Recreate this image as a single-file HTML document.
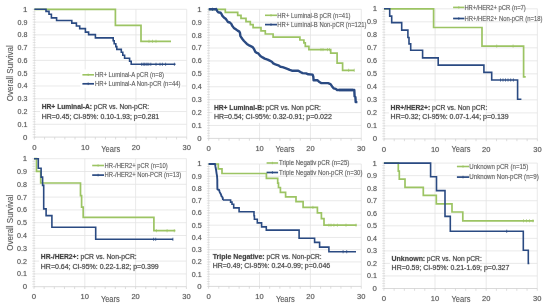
<!DOCTYPE html>
<html><head><meta charset="utf-8"><style>
html,body{margin:0;padding:0;background:#fff;overflow:hidden}
svg{display:block;will-change:transform}
text{font-family:"Liberation Sans",sans-serif}
</style></head><body>
<svg width="550" height="308" viewBox="0 0 550 308">
<rect width="550" height="308" fill="#fff"/>
<line x1="34.4" y1="124.32" x2="186.7" y2="124.32" stroke="#e3e3e3" stroke-width="0.8"/>
<line x1="34.4" y1="111.54" x2="186.7" y2="111.54" stroke="#e3e3e3" stroke-width="0.8"/>
<line x1="34.4" y1="98.76" x2="186.7" y2="98.76" stroke="#e3e3e3" stroke-width="0.8"/>
<line x1="34.4" y1="85.98" x2="186.7" y2="85.98" stroke="#e3e3e3" stroke-width="0.8"/>
<line x1="34.4" y1="73.20" x2="186.7" y2="73.20" stroke="#e3e3e3" stroke-width="0.8"/>
<line x1="34.4" y1="60.42" x2="186.7" y2="60.42" stroke="#e3e3e3" stroke-width="0.8"/>
<line x1="34.4" y1="47.64" x2="186.7" y2="47.64" stroke="#e3e3e3" stroke-width="0.8"/>
<line x1="34.4" y1="34.86" x2="186.7" y2="34.86" stroke="#e3e3e3" stroke-width="0.8"/>
<line x1="34.4" y1="22.08" x2="186.7" y2="22.08" stroke="#e3e3e3" stroke-width="0.8"/>
<line x1="34.4" y1="9.30" x2="186.7" y2="9.30" stroke="#e3e3e3" stroke-width="0.8"/>
<line x1="85.17" y1="9.3" x2="85.17" y2="137.1" stroke="#e3e3e3" stroke-width="0.8"/>
<line x1="135.94" y1="9.3" x2="135.94" y2="137.1" stroke="#e3e3e3" stroke-width="0.8"/>
<line x1="186.71" y1="9.3" x2="186.71" y2="137.1" stroke="#e3e3e3" stroke-width="0.8"/>
<line x1="34.40" y1="9.3" x2="34.40" y2="137.1" stroke="#e2e2e2" stroke-width="0.7"/>
<line x1="34.4" y1="137.10" x2="186.7" y2="137.10" stroke="#d0d0d0" stroke-width="0.8"/>
<line x1="32.7" y1="137.10" x2="35.6" y2="137.10" stroke="#d0d0d0" stroke-width="0.6"/>
<line x1="32.7" y1="134.54" x2="35.6" y2="134.54" stroke="#d0d0d0" stroke-width="0.6"/>
<line x1="32.7" y1="131.99" x2="35.6" y2="131.99" stroke="#d0d0d0" stroke-width="0.6"/>
<line x1="32.7" y1="129.43" x2="35.6" y2="129.43" stroke="#d0d0d0" stroke-width="0.6"/>
<line x1="32.7" y1="126.88" x2="35.6" y2="126.88" stroke="#d0d0d0" stroke-width="0.6"/>
<line x1="32.7" y1="124.32" x2="35.6" y2="124.32" stroke="#d0d0d0" stroke-width="0.6"/>
<line x1="32.7" y1="121.76" x2="35.6" y2="121.76" stroke="#d0d0d0" stroke-width="0.6"/>
<line x1="32.7" y1="119.21" x2="35.6" y2="119.21" stroke="#d0d0d0" stroke-width="0.6"/>
<line x1="32.7" y1="116.65" x2="35.6" y2="116.65" stroke="#d0d0d0" stroke-width="0.6"/>
<line x1="32.7" y1="114.10" x2="35.6" y2="114.10" stroke="#d0d0d0" stroke-width="0.6"/>
<line x1="32.7" y1="111.54" x2="35.6" y2="111.54" stroke="#d0d0d0" stroke-width="0.6"/>
<line x1="32.7" y1="108.98" x2="35.6" y2="108.98" stroke="#d0d0d0" stroke-width="0.6"/>
<line x1="32.7" y1="106.43" x2="35.6" y2="106.43" stroke="#d0d0d0" stroke-width="0.6"/>
<line x1="32.7" y1="103.87" x2="35.6" y2="103.87" stroke="#d0d0d0" stroke-width="0.6"/>
<line x1="32.7" y1="101.32" x2="35.6" y2="101.32" stroke="#d0d0d0" stroke-width="0.6"/>
<line x1="32.7" y1="98.76" x2="35.6" y2="98.76" stroke="#d0d0d0" stroke-width="0.6"/>
<line x1="32.7" y1="96.20" x2="35.6" y2="96.20" stroke="#d0d0d0" stroke-width="0.6"/>
<line x1="32.7" y1="93.65" x2="35.6" y2="93.65" stroke="#d0d0d0" stroke-width="0.6"/>
<line x1="32.7" y1="91.09" x2="35.6" y2="91.09" stroke="#d0d0d0" stroke-width="0.6"/>
<line x1="32.7" y1="88.54" x2="35.6" y2="88.54" stroke="#d0d0d0" stroke-width="0.6"/>
<line x1="32.7" y1="85.98" x2="35.6" y2="85.98" stroke="#d0d0d0" stroke-width="0.6"/>
<line x1="32.7" y1="83.42" x2="35.6" y2="83.42" stroke="#d0d0d0" stroke-width="0.6"/>
<line x1="32.7" y1="80.87" x2="35.6" y2="80.87" stroke="#d0d0d0" stroke-width="0.6"/>
<line x1="32.7" y1="78.31" x2="35.6" y2="78.31" stroke="#d0d0d0" stroke-width="0.6"/>
<line x1="32.7" y1="75.76" x2="35.6" y2="75.76" stroke="#d0d0d0" stroke-width="0.6"/>
<line x1="32.7" y1="73.20" x2="35.6" y2="73.20" stroke="#d0d0d0" stroke-width="0.6"/>
<line x1="32.7" y1="70.64" x2="35.6" y2="70.64" stroke="#d0d0d0" stroke-width="0.6"/>
<line x1="32.7" y1="68.09" x2="35.6" y2="68.09" stroke="#d0d0d0" stroke-width="0.6"/>
<line x1="32.7" y1="65.53" x2="35.6" y2="65.53" stroke="#d0d0d0" stroke-width="0.6"/>
<line x1="32.7" y1="62.98" x2="35.6" y2="62.98" stroke="#d0d0d0" stroke-width="0.6"/>
<line x1="32.7" y1="60.42" x2="35.6" y2="60.42" stroke="#d0d0d0" stroke-width="0.6"/>
<line x1="32.7" y1="57.86" x2="35.6" y2="57.86" stroke="#d0d0d0" stroke-width="0.6"/>
<line x1="32.7" y1="55.31" x2="35.6" y2="55.31" stroke="#d0d0d0" stroke-width="0.6"/>
<line x1="32.7" y1="52.75" x2="35.6" y2="52.75" stroke="#d0d0d0" stroke-width="0.6"/>
<line x1="32.7" y1="50.20" x2="35.6" y2="50.20" stroke="#d0d0d0" stroke-width="0.6"/>
<line x1="32.7" y1="47.64" x2="35.6" y2="47.64" stroke="#d0d0d0" stroke-width="0.6"/>
<line x1="32.7" y1="45.08" x2="35.6" y2="45.08" stroke="#d0d0d0" stroke-width="0.6"/>
<line x1="32.7" y1="42.53" x2="35.6" y2="42.53" stroke="#d0d0d0" stroke-width="0.6"/>
<line x1="32.7" y1="39.97" x2="35.6" y2="39.97" stroke="#d0d0d0" stroke-width="0.6"/>
<line x1="32.7" y1="37.42" x2="35.6" y2="37.42" stroke="#d0d0d0" stroke-width="0.6"/>
<line x1="32.7" y1="34.86" x2="35.6" y2="34.86" stroke="#d0d0d0" stroke-width="0.6"/>
<line x1="32.7" y1="32.30" x2="35.6" y2="32.30" stroke="#d0d0d0" stroke-width="0.6"/>
<line x1="32.7" y1="29.75" x2="35.6" y2="29.75" stroke="#d0d0d0" stroke-width="0.6"/>
<line x1="32.7" y1="27.19" x2="35.6" y2="27.19" stroke="#d0d0d0" stroke-width="0.6"/>
<line x1="32.7" y1="24.64" x2="35.6" y2="24.64" stroke="#d0d0d0" stroke-width="0.6"/>
<line x1="32.7" y1="22.08" x2="35.6" y2="22.08" stroke="#d0d0d0" stroke-width="0.6"/>
<line x1="32.7" y1="19.52" x2="35.6" y2="19.52" stroke="#d0d0d0" stroke-width="0.6"/>
<line x1="32.7" y1="16.97" x2="35.6" y2="16.97" stroke="#d0d0d0" stroke-width="0.6"/>
<line x1="32.7" y1="14.41" x2="35.6" y2="14.41" stroke="#d0d0d0" stroke-width="0.6"/>
<line x1="32.7" y1="11.86" x2="35.6" y2="11.86" stroke="#d0d0d0" stroke-width="0.6"/>
<line x1="32.7" y1="9.30" x2="35.6" y2="9.30" stroke="#d0d0d0" stroke-width="0.6"/>
<line x1="34.40" y1="137.1" x2="34.40" y2="139.4" stroke="#d0d0d0" stroke-width="0.7"/>
<line x1="44.55" y1="137.1" x2="44.55" y2="139.4" stroke="#d0d0d0" stroke-width="0.7"/>
<line x1="54.71" y1="137.1" x2="54.71" y2="139.4" stroke="#d0d0d0" stroke-width="0.7"/>
<line x1="64.86" y1="137.1" x2="64.86" y2="139.4" stroke="#d0d0d0" stroke-width="0.7"/>
<line x1="75.02" y1="137.1" x2="75.02" y2="139.4" stroke="#d0d0d0" stroke-width="0.7"/>
<line x1="85.17" y1="137.1" x2="85.17" y2="139.4" stroke="#d0d0d0" stroke-width="0.7"/>
<line x1="95.32" y1="137.1" x2="95.32" y2="139.4" stroke="#d0d0d0" stroke-width="0.7"/>
<line x1="105.48" y1="137.1" x2="105.48" y2="139.4" stroke="#d0d0d0" stroke-width="0.7"/>
<line x1="115.63" y1="137.1" x2="115.63" y2="139.4" stroke="#d0d0d0" stroke-width="0.7"/>
<line x1="125.79" y1="137.1" x2="125.79" y2="139.4" stroke="#d0d0d0" stroke-width="0.7"/>
<line x1="135.94" y1="137.1" x2="135.94" y2="139.4" stroke="#d0d0d0" stroke-width="0.7"/>
<line x1="146.09" y1="137.1" x2="146.09" y2="139.4" stroke="#d0d0d0" stroke-width="0.7"/>
<line x1="156.25" y1="137.1" x2="156.25" y2="139.4" stroke="#d0d0d0" stroke-width="0.7"/>
<line x1="166.40" y1="137.1" x2="166.40" y2="139.4" stroke="#d0d0d0" stroke-width="0.7"/>
<line x1="176.56" y1="137.1" x2="176.56" y2="139.4" stroke="#d0d0d0" stroke-width="0.7"/>
<line x1="186.71" y1="137.1" x2="186.71" y2="139.4" stroke="#d0d0d0" stroke-width="0.7"/>
<text x="27.4" y="139.5" font-size="7.8" fill="#595959" text-anchor="end" font-weight="normal" stroke="#595959" stroke-width="0.6" stroke-opacity="0.3">0</text>
<text x="27.4" y="126.7" font-size="7.8" fill="#595959" text-anchor="end" font-weight="normal" textLength="9.9" lengthAdjust="spacingAndGlyphs" stroke="#595959" stroke-width="0.6" stroke-opacity="0.3">0.1</text>
<text x="27.4" y="113.9" font-size="7.8" fill="#595959" text-anchor="end" font-weight="normal" textLength="9.9" lengthAdjust="spacingAndGlyphs" stroke="#595959" stroke-width="0.6" stroke-opacity="0.3">0.2</text>
<text x="27.4" y="101.2" font-size="7.8" fill="#595959" text-anchor="end" font-weight="normal" textLength="9.9" lengthAdjust="spacingAndGlyphs" stroke="#595959" stroke-width="0.6" stroke-opacity="0.3">0.3</text>
<text x="27.4" y="88.4" font-size="7.8" fill="#595959" text-anchor="end" font-weight="normal" textLength="9.9" lengthAdjust="spacingAndGlyphs" stroke="#595959" stroke-width="0.6" stroke-opacity="0.3">0.4</text>
<text x="27.4" y="75.6" font-size="7.8" fill="#595959" text-anchor="end" font-weight="normal" textLength="9.9" lengthAdjust="spacingAndGlyphs" stroke="#595959" stroke-width="0.6" stroke-opacity="0.3">0.5</text>
<text x="27.4" y="62.8" font-size="7.8" fill="#595959" text-anchor="end" font-weight="normal" textLength="9.9" lengthAdjust="spacingAndGlyphs" stroke="#595959" stroke-width="0.6" stroke-opacity="0.3">0.6</text>
<text x="27.4" y="50.0" font-size="7.8" fill="#595959" text-anchor="end" font-weight="normal" textLength="9.9" lengthAdjust="spacingAndGlyphs" stroke="#595959" stroke-width="0.6" stroke-opacity="0.3">0.7</text>
<text x="27.4" y="37.3" font-size="7.8" fill="#595959" text-anchor="end" font-weight="normal" textLength="9.9" lengthAdjust="spacingAndGlyphs" stroke="#595959" stroke-width="0.6" stroke-opacity="0.3">0.8</text>
<text x="27.4" y="24.5" font-size="7.8" fill="#595959" text-anchor="end" font-weight="normal" textLength="9.9" lengthAdjust="spacingAndGlyphs" stroke="#595959" stroke-width="0.6" stroke-opacity="0.3">0.9</text>
<text x="27.4" y="11.7" font-size="7.8" fill="#595959" text-anchor="end" font-weight="normal" stroke="#595959" stroke-width="0.6" stroke-opacity="0.3">1</text>
<text x="34.4" y="149.7" font-size="7.8" fill="#595959" text-anchor="middle" font-weight="normal" stroke="#595959" stroke-width="0.6" stroke-opacity="0.3">0</text>
<text x="85.2" y="149.7" font-size="7.8" fill="#595959" text-anchor="middle" font-weight="normal" textLength="8.4" lengthAdjust="spacingAndGlyphs" stroke="#595959" stroke-width="0.6" stroke-opacity="0.3">10</text>
<text x="135.9" y="149.7" font-size="7.8" fill="#595959" text-anchor="middle" font-weight="normal" textLength="8.4" lengthAdjust="spacingAndGlyphs" stroke="#595959" stroke-width="0.6" stroke-opacity="0.3">20</text>
<text x="186.7" y="149.7" font-size="7.8" fill="#595959" text-anchor="middle" font-weight="normal" textLength="8.4" lengthAdjust="spacingAndGlyphs" stroke="#595959" stroke-width="0.6" stroke-opacity="0.3">30</text>
<text x="101.3" y="151.7" font-size="8.5" fill="#595959" text-anchor="start" font-weight="normal" textLength="18.9" lengthAdjust="spacingAndGlyphs" stroke="#595959" stroke-width="0.6" stroke-opacity="0.2">Years</text>
<line x1="208.7" y1="125.49" x2="361.3" y2="125.49" stroke="#e3e3e3" stroke-width="0.8"/>
<line x1="208.7" y1="112.58" x2="361.3" y2="112.58" stroke="#e3e3e3" stroke-width="0.8"/>
<line x1="208.7" y1="99.67" x2="361.3" y2="99.67" stroke="#e3e3e3" stroke-width="0.8"/>
<line x1="208.7" y1="86.76" x2="361.3" y2="86.76" stroke="#e3e3e3" stroke-width="0.8"/>
<line x1="208.7" y1="73.85" x2="361.3" y2="73.85" stroke="#e3e3e3" stroke-width="0.8"/>
<line x1="208.7" y1="60.94" x2="361.3" y2="60.94" stroke="#e3e3e3" stroke-width="0.8"/>
<line x1="208.7" y1="48.03" x2="361.3" y2="48.03" stroke="#e3e3e3" stroke-width="0.8"/>
<line x1="208.7" y1="35.12" x2="361.3" y2="35.12" stroke="#e3e3e3" stroke-width="0.8"/>
<line x1="208.7" y1="22.21" x2="361.3" y2="22.21" stroke="#e3e3e3" stroke-width="0.8"/>
<line x1="208.7" y1="9.30" x2="361.3" y2="9.30" stroke="#e3e3e3" stroke-width="0.8"/>
<line x1="259.57" y1="9.3" x2="259.57" y2="138.4" stroke="#e3e3e3" stroke-width="0.8"/>
<line x1="310.44" y1="9.3" x2="310.44" y2="138.4" stroke="#e3e3e3" stroke-width="0.8"/>
<line x1="361.31" y1="9.3" x2="361.31" y2="138.4" stroke="#e3e3e3" stroke-width="0.8"/>
<line x1="208.70" y1="9.3" x2="208.70" y2="138.4" stroke="#e2e2e2" stroke-width="0.7"/>
<line x1="208.7" y1="138.40" x2="361.3" y2="138.40" stroke="#d0d0d0" stroke-width="0.8"/>
<line x1="207.0" y1="138.40" x2="209.9" y2="138.40" stroke="#d0d0d0" stroke-width="0.6"/>
<line x1="207.0" y1="135.82" x2="209.9" y2="135.82" stroke="#d0d0d0" stroke-width="0.6"/>
<line x1="207.0" y1="133.24" x2="209.9" y2="133.24" stroke="#d0d0d0" stroke-width="0.6"/>
<line x1="207.0" y1="130.65" x2="209.9" y2="130.65" stroke="#d0d0d0" stroke-width="0.6"/>
<line x1="207.0" y1="128.07" x2="209.9" y2="128.07" stroke="#d0d0d0" stroke-width="0.6"/>
<line x1="207.0" y1="125.49" x2="209.9" y2="125.49" stroke="#d0d0d0" stroke-width="0.6"/>
<line x1="207.0" y1="122.91" x2="209.9" y2="122.91" stroke="#d0d0d0" stroke-width="0.6"/>
<line x1="207.0" y1="120.33" x2="209.9" y2="120.33" stroke="#d0d0d0" stroke-width="0.6"/>
<line x1="207.0" y1="117.74" x2="209.9" y2="117.74" stroke="#d0d0d0" stroke-width="0.6"/>
<line x1="207.0" y1="115.16" x2="209.9" y2="115.16" stroke="#d0d0d0" stroke-width="0.6"/>
<line x1="207.0" y1="112.58" x2="209.9" y2="112.58" stroke="#d0d0d0" stroke-width="0.6"/>
<line x1="207.0" y1="110.00" x2="209.9" y2="110.00" stroke="#d0d0d0" stroke-width="0.6"/>
<line x1="207.0" y1="107.42" x2="209.9" y2="107.42" stroke="#d0d0d0" stroke-width="0.6"/>
<line x1="207.0" y1="104.83" x2="209.9" y2="104.83" stroke="#d0d0d0" stroke-width="0.6"/>
<line x1="207.0" y1="102.25" x2="209.9" y2="102.25" stroke="#d0d0d0" stroke-width="0.6"/>
<line x1="207.0" y1="99.67" x2="209.9" y2="99.67" stroke="#d0d0d0" stroke-width="0.6"/>
<line x1="207.0" y1="97.09" x2="209.9" y2="97.09" stroke="#d0d0d0" stroke-width="0.6"/>
<line x1="207.0" y1="94.51" x2="209.9" y2="94.51" stroke="#d0d0d0" stroke-width="0.6"/>
<line x1="207.0" y1="91.92" x2="209.9" y2="91.92" stroke="#d0d0d0" stroke-width="0.6"/>
<line x1="207.0" y1="89.34" x2="209.9" y2="89.34" stroke="#d0d0d0" stroke-width="0.6"/>
<line x1="207.0" y1="86.76" x2="209.9" y2="86.76" stroke="#d0d0d0" stroke-width="0.6"/>
<line x1="207.0" y1="84.18" x2="209.9" y2="84.18" stroke="#d0d0d0" stroke-width="0.6"/>
<line x1="207.0" y1="81.60" x2="209.9" y2="81.60" stroke="#d0d0d0" stroke-width="0.6"/>
<line x1="207.0" y1="79.01" x2="209.9" y2="79.01" stroke="#d0d0d0" stroke-width="0.6"/>
<line x1="207.0" y1="76.43" x2="209.9" y2="76.43" stroke="#d0d0d0" stroke-width="0.6"/>
<line x1="207.0" y1="73.85" x2="209.9" y2="73.85" stroke="#d0d0d0" stroke-width="0.6"/>
<line x1="207.0" y1="71.27" x2="209.9" y2="71.27" stroke="#d0d0d0" stroke-width="0.6"/>
<line x1="207.0" y1="68.69" x2="209.9" y2="68.69" stroke="#d0d0d0" stroke-width="0.6"/>
<line x1="207.0" y1="66.10" x2="209.9" y2="66.10" stroke="#d0d0d0" stroke-width="0.6"/>
<line x1="207.0" y1="63.52" x2="209.9" y2="63.52" stroke="#d0d0d0" stroke-width="0.6"/>
<line x1="207.0" y1="60.94" x2="209.9" y2="60.94" stroke="#d0d0d0" stroke-width="0.6"/>
<line x1="207.0" y1="58.36" x2="209.9" y2="58.36" stroke="#d0d0d0" stroke-width="0.6"/>
<line x1="207.0" y1="55.78" x2="209.9" y2="55.78" stroke="#d0d0d0" stroke-width="0.6"/>
<line x1="207.0" y1="53.19" x2="209.9" y2="53.19" stroke="#d0d0d0" stroke-width="0.6"/>
<line x1="207.0" y1="50.61" x2="209.9" y2="50.61" stroke="#d0d0d0" stroke-width="0.6"/>
<line x1="207.0" y1="48.03" x2="209.9" y2="48.03" stroke="#d0d0d0" stroke-width="0.6"/>
<line x1="207.0" y1="45.45" x2="209.9" y2="45.45" stroke="#d0d0d0" stroke-width="0.6"/>
<line x1="207.0" y1="42.87" x2="209.9" y2="42.87" stroke="#d0d0d0" stroke-width="0.6"/>
<line x1="207.0" y1="40.28" x2="209.9" y2="40.28" stroke="#d0d0d0" stroke-width="0.6"/>
<line x1="207.0" y1="37.70" x2="209.9" y2="37.70" stroke="#d0d0d0" stroke-width="0.6"/>
<line x1="207.0" y1="35.12" x2="209.9" y2="35.12" stroke="#d0d0d0" stroke-width="0.6"/>
<line x1="207.0" y1="32.54" x2="209.9" y2="32.54" stroke="#d0d0d0" stroke-width="0.6"/>
<line x1="207.0" y1="29.96" x2="209.9" y2="29.96" stroke="#d0d0d0" stroke-width="0.6"/>
<line x1="207.0" y1="27.37" x2="209.9" y2="27.37" stroke="#d0d0d0" stroke-width="0.6"/>
<line x1="207.0" y1="24.79" x2="209.9" y2="24.79" stroke="#d0d0d0" stroke-width="0.6"/>
<line x1="207.0" y1="22.21" x2="209.9" y2="22.21" stroke="#d0d0d0" stroke-width="0.6"/>
<line x1="207.0" y1="19.63" x2="209.9" y2="19.63" stroke="#d0d0d0" stroke-width="0.6"/>
<line x1="207.0" y1="17.05" x2="209.9" y2="17.05" stroke="#d0d0d0" stroke-width="0.6"/>
<line x1="207.0" y1="14.46" x2="209.9" y2="14.46" stroke="#d0d0d0" stroke-width="0.6"/>
<line x1="207.0" y1="11.88" x2="209.9" y2="11.88" stroke="#d0d0d0" stroke-width="0.6"/>
<line x1="207.0" y1="9.30" x2="209.9" y2="9.30" stroke="#d0d0d0" stroke-width="0.6"/>
<line x1="208.70" y1="138.4" x2="208.70" y2="140.7" stroke="#d0d0d0" stroke-width="0.7"/>
<line x1="218.87" y1="138.4" x2="218.87" y2="140.7" stroke="#d0d0d0" stroke-width="0.7"/>
<line x1="229.05" y1="138.4" x2="229.05" y2="140.7" stroke="#d0d0d0" stroke-width="0.7"/>
<line x1="239.22" y1="138.4" x2="239.22" y2="140.7" stroke="#d0d0d0" stroke-width="0.7"/>
<line x1="249.40" y1="138.4" x2="249.40" y2="140.7" stroke="#d0d0d0" stroke-width="0.7"/>
<line x1="259.57" y1="138.4" x2="259.57" y2="140.7" stroke="#d0d0d0" stroke-width="0.7"/>
<line x1="269.74" y1="138.4" x2="269.74" y2="140.7" stroke="#d0d0d0" stroke-width="0.7"/>
<line x1="279.92" y1="138.4" x2="279.92" y2="140.7" stroke="#d0d0d0" stroke-width="0.7"/>
<line x1="290.09" y1="138.4" x2="290.09" y2="140.7" stroke="#d0d0d0" stroke-width="0.7"/>
<line x1="300.27" y1="138.4" x2="300.27" y2="140.7" stroke="#d0d0d0" stroke-width="0.7"/>
<line x1="310.44" y1="138.4" x2="310.44" y2="140.7" stroke="#d0d0d0" stroke-width="0.7"/>
<line x1="320.61" y1="138.4" x2="320.61" y2="140.7" stroke="#d0d0d0" stroke-width="0.7"/>
<line x1="330.79" y1="138.4" x2="330.79" y2="140.7" stroke="#d0d0d0" stroke-width="0.7"/>
<line x1="340.96" y1="138.4" x2="340.96" y2="140.7" stroke="#d0d0d0" stroke-width="0.7"/>
<line x1="351.14" y1="138.4" x2="351.14" y2="140.7" stroke="#d0d0d0" stroke-width="0.7"/>
<line x1="361.31" y1="138.4" x2="361.31" y2="140.7" stroke="#d0d0d0" stroke-width="0.7"/>
<text x="201.7" y="140.8" font-size="7.8" fill="#595959" text-anchor="end" font-weight="normal" stroke="#595959" stroke-width="0.6" stroke-opacity="0.3">0</text>
<text x="201.7" y="127.9" font-size="7.8" fill="#595959" text-anchor="end" font-weight="normal" textLength="9.9" lengthAdjust="spacingAndGlyphs" stroke="#595959" stroke-width="0.6" stroke-opacity="0.3">0.1</text>
<text x="201.7" y="115.0" font-size="7.8" fill="#595959" text-anchor="end" font-weight="normal" textLength="9.9" lengthAdjust="spacingAndGlyphs" stroke="#595959" stroke-width="0.6" stroke-opacity="0.3">0.2</text>
<text x="201.7" y="102.1" font-size="7.8" fill="#595959" text-anchor="end" font-weight="normal" textLength="9.9" lengthAdjust="spacingAndGlyphs" stroke="#595959" stroke-width="0.6" stroke-opacity="0.3">0.3</text>
<text x="201.7" y="89.2" font-size="7.8" fill="#595959" text-anchor="end" font-weight="normal" textLength="9.9" lengthAdjust="spacingAndGlyphs" stroke="#595959" stroke-width="0.6" stroke-opacity="0.3">0.4</text>
<text x="201.7" y="76.3" font-size="7.8" fill="#595959" text-anchor="end" font-weight="normal" textLength="9.9" lengthAdjust="spacingAndGlyphs" stroke="#595959" stroke-width="0.6" stroke-opacity="0.3">0.5</text>
<text x="201.7" y="63.3" font-size="7.8" fill="#595959" text-anchor="end" font-weight="normal" textLength="9.9" lengthAdjust="spacingAndGlyphs" stroke="#595959" stroke-width="0.6" stroke-opacity="0.3">0.6</text>
<text x="201.7" y="50.4" font-size="7.8" fill="#595959" text-anchor="end" font-weight="normal" textLength="9.9" lengthAdjust="spacingAndGlyphs" stroke="#595959" stroke-width="0.6" stroke-opacity="0.3">0.7</text>
<text x="201.7" y="37.5" font-size="7.8" fill="#595959" text-anchor="end" font-weight="normal" textLength="9.9" lengthAdjust="spacingAndGlyphs" stroke="#595959" stroke-width="0.6" stroke-opacity="0.3">0.8</text>
<text x="201.7" y="24.6" font-size="7.8" fill="#595959" text-anchor="end" font-weight="normal" textLength="9.9" lengthAdjust="spacingAndGlyphs" stroke="#595959" stroke-width="0.6" stroke-opacity="0.3">0.9</text>
<text x="201.7" y="11.7" font-size="7.8" fill="#595959" text-anchor="end" font-weight="normal" stroke="#595959" stroke-width="0.6" stroke-opacity="0.3">1</text>
<text x="208.7" y="151.0" font-size="7.8" fill="#595959" text-anchor="middle" font-weight="normal" stroke="#595959" stroke-width="0.6" stroke-opacity="0.3">0</text>
<text x="259.6" y="151.0" font-size="7.8" fill="#595959" text-anchor="middle" font-weight="normal" textLength="8.4" lengthAdjust="spacingAndGlyphs" stroke="#595959" stroke-width="0.6" stroke-opacity="0.3">10</text>
<text x="310.4" y="151.0" font-size="7.8" fill="#595959" text-anchor="middle" font-weight="normal" textLength="8.4" lengthAdjust="spacingAndGlyphs" stroke="#595959" stroke-width="0.6" stroke-opacity="0.3">20</text>
<text x="361.3" y="151.0" font-size="7.8" fill="#595959" text-anchor="middle" font-weight="normal" textLength="8.4" lengthAdjust="spacingAndGlyphs" stroke="#595959" stroke-width="0.6" stroke-opacity="0.3">30</text>
<text x="275.5" y="151.7" font-size="8.5" fill="#595959" text-anchor="start" font-weight="normal" textLength="18.9" lengthAdjust="spacingAndGlyphs" stroke="#595959" stroke-width="0.6" stroke-opacity="0.2">Years</text>
<line x1="384.0" y1="125.89" x2="537.4" y2="125.89" stroke="#e3e3e3" stroke-width="0.8"/>
<line x1="384.0" y1="112.88" x2="537.4" y2="112.88" stroke="#e3e3e3" stroke-width="0.8"/>
<line x1="384.0" y1="99.87" x2="537.4" y2="99.87" stroke="#e3e3e3" stroke-width="0.8"/>
<line x1="384.0" y1="86.86" x2="537.4" y2="86.86" stroke="#e3e3e3" stroke-width="0.8"/>
<line x1="384.0" y1="73.85" x2="537.4" y2="73.85" stroke="#e3e3e3" stroke-width="0.8"/>
<line x1="384.0" y1="60.84" x2="537.4" y2="60.84" stroke="#e3e3e3" stroke-width="0.8"/>
<line x1="384.0" y1="47.83" x2="537.4" y2="47.83" stroke="#e3e3e3" stroke-width="0.8"/>
<line x1="384.0" y1="34.82" x2="537.4" y2="34.82" stroke="#e3e3e3" stroke-width="0.8"/>
<line x1="384.0" y1="21.81" x2="537.4" y2="21.81" stroke="#e3e3e3" stroke-width="0.8"/>
<line x1="384.0" y1="8.80" x2="537.4" y2="8.80" stroke="#e3e3e3" stroke-width="0.8"/>
<line x1="435.13" y1="8.8" x2="435.13" y2="138.9" stroke="#e3e3e3" stroke-width="0.8"/>
<line x1="486.26" y1="8.8" x2="486.26" y2="138.9" stroke="#e3e3e3" stroke-width="0.8"/>
<line x1="537.39" y1="8.8" x2="537.39" y2="138.9" stroke="#e3e3e3" stroke-width="0.8"/>
<line x1="384.00" y1="8.8" x2="384.00" y2="138.9" stroke="#e2e2e2" stroke-width="0.7"/>
<line x1="384.0" y1="138.90" x2="537.4" y2="138.90" stroke="#d0d0d0" stroke-width="0.8"/>
<line x1="382.3" y1="138.90" x2="385.2" y2="138.90" stroke="#d0d0d0" stroke-width="0.6"/>
<line x1="382.3" y1="136.30" x2="385.2" y2="136.30" stroke="#d0d0d0" stroke-width="0.6"/>
<line x1="382.3" y1="133.70" x2="385.2" y2="133.70" stroke="#d0d0d0" stroke-width="0.6"/>
<line x1="382.3" y1="131.09" x2="385.2" y2="131.09" stroke="#d0d0d0" stroke-width="0.6"/>
<line x1="382.3" y1="128.49" x2="385.2" y2="128.49" stroke="#d0d0d0" stroke-width="0.6"/>
<line x1="382.3" y1="125.89" x2="385.2" y2="125.89" stroke="#d0d0d0" stroke-width="0.6"/>
<line x1="382.3" y1="123.29" x2="385.2" y2="123.29" stroke="#d0d0d0" stroke-width="0.6"/>
<line x1="382.3" y1="120.69" x2="385.2" y2="120.69" stroke="#d0d0d0" stroke-width="0.6"/>
<line x1="382.3" y1="118.08" x2="385.2" y2="118.08" stroke="#d0d0d0" stroke-width="0.6"/>
<line x1="382.3" y1="115.48" x2="385.2" y2="115.48" stroke="#d0d0d0" stroke-width="0.6"/>
<line x1="382.3" y1="112.88" x2="385.2" y2="112.88" stroke="#d0d0d0" stroke-width="0.6"/>
<line x1="382.3" y1="110.28" x2="385.2" y2="110.28" stroke="#d0d0d0" stroke-width="0.6"/>
<line x1="382.3" y1="107.68" x2="385.2" y2="107.68" stroke="#d0d0d0" stroke-width="0.6"/>
<line x1="382.3" y1="105.07" x2="385.2" y2="105.07" stroke="#d0d0d0" stroke-width="0.6"/>
<line x1="382.3" y1="102.47" x2="385.2" y2="102.47" stroke="#d0d0d0" stroke-width="0.6"/>
<line x1="382.3" y1="99.87" x2="385.2" y2="99.87" stroke="#d0d0d0" stroke-width="0.6"/>
<line x1="382.3" y1="97.27" x2="385.2" y2="97.27" stroke="#d0d0d0" stroke-width="0.6"/>
<line x1="382.3" y1="94.67" x2="385.2" y2="94.67" stroke="#d0d0d0" stroke-width="0.6"/>
<line x1="382.3" y1="92.06" x2="385.2" y2="92.06" stroke="#d0d0d0" stroke-width="0.6"/>
<line x1="382.3" y1="89.46" x2="385.2" y2="89.46" stroke="#d0d0d0" stroke-width="0.6"/>
<line x1="382.3" y1="86.86" x2="385.2" y2="86.86" stroke="#d0d0d0" stroke-width="0.6"/>
<line x1="382.3" y1="84.26" x2="385.2" y2="84.26" stroke="#d0d0d0" stroke-width="0.6"/>
<line x1="382.3" y1="81.66" x2="385.2" y2="81.66" stroke="#d0d0d0" stroke-width="0.6"/>
<line x1="382.3" y1="79.05" x2="385.2" y2="79.05" stroke="#d0d0d0" stroke-width="0.6"/>
<line x1="382.3" y1="76.45" x2="385.2" y2="76.45" stroke="#d0d0d0" stroke-width="0.6"/>
<line x1="382.3" y1="73.85" x2="385.2" y2="73.85" stroke="#d0d0d0" stroke-width="0.6"/>
<line x1="382.3" y1="71.25" x2="385.2" y2="71.25" stroke="#d0d0d0" stroke-width="0.6"/>
<line x1="382.3" y1="68.65" x2="385.2" y2="68.65" stroke="#d0d0d0" stroke-width="0.6"/>
<line x1="382.3" y1="66.04" x2="385.2" y2="66.04" stroke="#d0d0d0" stroke-width="0.6"/>
<line x1="382.3" y1="63.44" x2="385.2" y2="63.44" stroke="#d0d0d0" stroke-width="0.6"/>
<line x1="382.3" y1="60.84" x2="385.2" y2="60.84" stroke="#d0d0d0" stroke-width="0.6"/>
<line x1="382.3" y1="58.24" x2="385.2" y2="58.24" stroke="#d0d0d0" stroke-width="0.6"/>
<line x1="382.3" y1="55.64" x2="385.2" y2="55.64" stroke="#d0d0d0" stroke-width="0.6"/>
<line x1="382.3" y1="53.03" x2="385.2" y2="53.03" stroke="#d0d0d0" stroke-width="0.6"/>
<line x1="382.3" y1="50.43" x2="385.2" y2="50.43" stroke="#d0d0d0" stroke-width="0.6"/>
<line x1="382.3" y1="47.83" x2="385.2" y2="47.83" stroke="#d0d0d0" stroke-width="0.6"/>
<line x1="382.3" y1="45.23" x2="385.2" y2="45.23" stroke="#d0d0d0" stroke-width="0.6"/>
<line x1="382.3" y1="42.63" x2="385.2" y2="42.63" stroke="#d0d0d0" stroke-width="0.6"/>
<line x1="382.3" y1="40.02" x2="385.2" y2="40.02" stroke="#d0d0d0" stroke-width="0.6"/>
<line x1="382.3" y1="37.42" x2="385.2" y2="37.42" stroke="#d0d0d0" stroke-width="0.6"/>
<line x1="382.3" y1="34.82" x2="385.2" y2="34.82" stroke="#d0d0d0" stroke-width="0.6"/>
<line x1="382.3" y1="32.22" x2="385.2" y2="32.22" stroke="#d0d0d0" stroke-width="0.6"/>
<line x1="382.3" y1="29.62" x2="385.2" y2="29.62" stroke="#d0d0d0" stroke-width="0.6"/>
<line x1="382.3" y1="27.01" x2="385.2" y2="27.01" stroke="#d0d0d0" stroke-width="0.6"/>
<line x1="382.3" y1="24.41" x2="385.2" y2="24.41" stroke="#d0d0d0" stroke-width="0.6"/>
<line x1="382.3" y1="21.81" x2="385.2" y2="21.81" stroke="#d0d0d0" stroke-width="0.6"/>
<line x1="382.3" y1="19.21" x2="385.2" y2="19.21" stroke="#d0d0d0" stroke-width="0.6"/>
<line x1="382.3" y1="16.61" x2="385.2" y2="16.61" stroke="#d0d0d0" stroke-width="0.6"/>
<line x1="382.3" y1="14.00" x2="385.2" y2="14.00" stroke="#d0d0d0" stroke-width="0.6"/>
<line x1="382.3" y1="11.40" x2="385.2" y2="11.40" stroke="#d0d0d0" stroke-width="0.6"/>
<line x1="382.3" y1="8.80" x2="385.2" y2="8.80" stroke="#d0d0d0" stroke-width="0.6"/>
<line x1="384.00" y1="138.9" x2="384.00" y2="141.2" stroke="#d0d0d0" stroke-width="0.7"/>
<line x1="394.23" y1="138.9" x2="394.23" y2="141.2" stroke="#d0d0d0" stroke-width="0.7"/>
<line x1="404.45" y1="138.9" x2="404.45" y2="141.2" stroke="#d0d0d0" stroke-width="0.7"/>
<line x1="414.68" y1="138.9" x2="414.68" y2="141.2" stroke="#d0d0d0" stroke-width="0.7"/>
<line x1="424.90" y1="138.9" x2="424.90" y2="141.2" stroke="#d0d0d0" stroke-width="0.7"/>
<line x1="435.13" y1="138.9" x2="435.13" y2="141.2" stroke="#d0d0d0" stroke-width="0.7"/>
<line x1="445.36" y1="138.9" x2="445.36" y2="141.2" stroke="#d0d0d0" stroke-width="0.7"/>
<line x1="455.58" y1="138.9" x2="455.58" y2="141.2" stroke="#d0d0d0" stroke-width="0.7"/>
<line x1="465.81" y1="138.9" x2="465.81" y2="141.2" stroke="#d0d0d0" stroke-width="0.7"/>
<line x1="476.03" y1="138.9" x2="476.03" y2="141.2" stroke="#d0d0d0" stroke-width="0.7"/>
<line x1="486.26" y1="138.9" x2="486.26" y2="141.2" stroke="#d0d0d0" stroke-width="0.7"/>
<line x1="496.49" y1="138.9" x2="496.49" y2="141.2" stroke="#d0d0d0" stroke-width="0.7"/>
<line x1="506.71" y1="138.9" x2="506.71" y2="141.2" stroke="#d0d0d0" stroke-width="0.7"/>
<line x1="516.94" y1="138.9" x2="516.94" y2="141.2" stroke="#d0d0d0" stroke-width="0.7"/>
<line x1="527.16" y1="138.9" x2="527.16" y2="141.2" stroke="#d0d0d0" stroke-width="0.7"/>
<line x1="537.39" y1="138.9" x2="537.39" y2="141.2" stroke="#d0d0d0" stroke-width="0.7"/>
<text x="377.0" y="141.3" font-size="7.8" fill="#595959" text-anchor="end" font-weight="normal" stroke="#595959" stroke-width="0.6" stroke-opacity="0.3">0</text>
<text x="377.0" y="128.3" font-size="7.8" fill="#595959" text-anchor="end" font-weight="normal" textLength="9.9" lengthAdjust="spacingAndGlyphs" stroke="#595959" stroke-width="0.6" stroke-opacity="0.3">0.1</text>
<text x="377.0" y="115.3" font-size="7.8" fill="#595959" text-anchor="end" font-weight="normal" textLength="9.9" lengthAdjust="spacingAndGlyphs" stroke="#595959" stroke-width="0.6" stroke-opacity="0.3">0.2</text>
<text x="377.0" y="102.3" font-size="7.8" fill="#595959" text-anchor="end" font-weight="normal" textLength="9.9" lengthAdjust="spacingAndGlyphs" stroke="#595959" stroke-width="0.6" stroke-opacity="0.3">0.3</text>
<text x="377.0" y="89.3" font-size="7.8" fill="#595959" text-anchor="end" font-weight="normal" textLength="9.9" lengthAdjust="spacingAndGlyphs" stroke="#595959" stroke-width="0.6" stroke-opacity="0.3">0.4</text>
<text x="377.0" y="76.3" font-size="7.8" fill="#595959" text-anchor="end" font-weight="normal" textLength="9.9" lengthAdjust="spacingAndGlyphs" stroke="#595959" stroke-width="0.6" stroke-opacity="0.3">0.5</text>
<text x="377.0" y="63.2" font-size="7.8" fill="#595959" text-anchor="end" font-weight="normal" textLength="9.9" lengthAdjust="spacingAndGlyphs" stroke="#595959" stroke-width="0.6" stroke-opacity="0.3">0.6</text>
<text x="377.0" y="50.2" font-size="7.8" fill="#595959" text-anchor="end" font-weight="normal" textLength="9.9" lengthAdjust="spacingAndGlyphs" stroke="#595959" stroke-width="0.6" stroke-opacity="0.3">0.7</text>
<text x="377.0" y="37.2" font-size="7.8" fill="#595959" text-anchor="end" font-weight="normal" textLength="9.9" lengthAdjust="spacingAndGlyphs" stroke="#595959" stroke-width="0.6" stroke-opacity="0.3">0.8</text>
<text x="377.0" y="24.2" font-size="7.8" fill="#595959" text-anchor="end" font-weight="normal" textLength="9.9" lengthAdjust="spacingAndGlyphs" stroke="#595959" stroke-width="0.6" stroke-opacity="0.3">0.9</text>
<text x="377.0" y="11.2" font-size="7.8" fill="#595959" text-anchor="end" font-weight="normal" stroke="#595959" stroke-width="0.6" stroke-opacity="0.3">1</text>
<text x="384.0" y="151.5" font-size="7.8" fill="#595959" text-anchor="middle" font-weight="normal" stroke="#595959" stroke-width="0.6" stroke-opacity="0.3">0</text>
<text x="435.1" y="151.5" font-size="7.8" fill="#595959" text-anchor="middle" font-weight="normal" textLength="8.4" lengthAdjust="spacingAndGlyphs" stroke="#595959" stroke-width="0.6" stroke-opacity="0.3">10</text>
<text x="486.3" y="151.5" font-size="7.8" fill="#595959" text-anchor="middle" font-weight="normal" textLength="8.4" lengthAdjust="spacingAndGlyphs" stroke="#595959" stroke-width="0.6" stroke-opacity="0.3">20</text>
<text x="537.4" y="151.5" font-size="7.8" fill="#595959" text-anchor="middle" font-weight="normal" textLength="8.4" lengthAdjust="spacingAndGlyphs" stroke="#595959" stroke-width="0.6" stroke-opacity="0.3">30</text>
<text x="451.5" y="151.7" font-size="8.5" fill="#595959" text-anchor="start" font-weight="normal" textLength="18.9" lengthAdjust="spacingAndGlyphs" stroke="#595959" stroke-width="0.6" stroke-opacity="0.2">Years</text>
<line x1="34.0" y1="273.90" x2="186.4" y2="273.90" stroke="#e3e3e3" stroke-width="0.8"/>
<line x1="34.0" y1="261.10" x2="186.4" y2="261.10" stroke="#e3e3e3" stroke-width="0.8"/>
<line x1="34.0" y1="248.30" x2="186.4" y2="248.30" stroke="#e3e3e3" stroke-width="0.8"/>
<line x1="34.0" y1="235.50" x2="186.4" y2="235.50" stroke="#e3e3e3" stroke-width="0.8"/>
<line x1="34.0" y1="222.70" x2="186.4" y2="222.70" stroke="#e3e3e3" stroke-width="0.8"/>
<line x1="34.0" y1="209.90" x2="186.4" y2="209.90" stroke="#e3e3e3" stroke-width="0.8"/>
<line x1="34.0" y1="197.10" x2="186.4" y2="197.10" stroke="#e3e3e3" stroke-width="0.8"/>
<line x1="34.0" y1="184.30" x2="186.4" y2="184.30" stroke="#e3e3e3" stroke-width="0.8"/>
<line x1="34.0" y1="171.50" x2="186.4" y2="171.50" stroke="#e3e3e3" stroke-width="0.8"/>
<line x1="34.0" y1="158.70" x2="186.4" y2="158.70" stroke="#e3e3e3" stroke-width="0.8"/>
<line x1="84.80" y1="158.7" x2="84.80" y2="286.7" stroke="#e3e3e3" stroke-width="0.8"/>
<line x1="135.60" y1="158.7" x2="135.60" y2="286.7" stroke="#e3e3e3" stroke-width="0.8"/>
<line x1="186.40" y1="158.7" x2="186.40" y2="286.7" stroke="#e3e3e3" stroke-width="0.8"/>
<line x1="34.00" y1="158.7" x2="34.00" y2="286.7" stroke="#e2e2e2" stroke-width="0.7"/>
<line x1="34.0" y1="286.70" x2="186.4" y2="286.70" stroke="#d0d0d0" stroke-width="0.8"/>
<line x1="32.3" y1="286.70" x2="35.2" y2="286.70" stroke="#d0d0d0" stroke-width="0.6"/>
<line x1="32.3" y1="284.14" x2="35.2" y2="284.14" stroke="#d0d0d0" stroke-width="0.6"/>
<line x1="32.3" y1="281.58" x2="35.2" y2="281.58" stroke="#d0d0d0" stroke-width="0.6"/>
<line x1="32.3" y1="279.02" x2="35.2" y2="279.02" stroke="#d0d0d0" stroke-width="0.6"/>
<line x1="32.3" y1="276.46" x2="35.2" y2="276.46" stroke="#d0d0d0" stroke-width="0.6"/>
<line x1="32.3" y1="273.90" x2="35.2" y2="273.90" stroke="#d0d0d0" stroke-width="0.6"/>
<line x1="32.3" y1="271.34" x2="35.2" y2="271.34" stroke="#d0d0d0" stroke-width="0.6"/>
<line x1="32.3" y1="268.78" x2="35.2" y2="268.78" stroke="#d0d0d0" stroke-width="0.6"/>
<line x1="32.3" y1="266.22" x2="35.2" y2="266.22" stroke="#d0d0d0" stroke-width="0.6"/>
<line x1="32.3" y1="263.66" x2="35.2" y2="263.66" stroke="#d0d0d0" stroke-width="0.6"/>
<line x1="32.3" y1="261.10" x2="35.2" y2="261.10" stroke="#d0d0d0" stroke-width="0.6"/>
<line x1="32.3" y1="258.54" x2="35.2" y2="258.54" stroke="#d0d0d0" stroke-width="0.6"/>
<line x1="32.3" y1="255.98" x2="35.2" y2="255.98" stroke="#d0d0d0" stroke-width="0.6"/>
<line x1="32.3" y1="253.42" x2="35.2" y2="253.42" stroke="#d0d0d0" stroke-width="0.6"/>
<line x1="32.3" y1="250.86" x2="35.2" y2="250.86" stroke="#d0d0d0" stroke-width="0.6"/>
<line x1="32.3" y1="248.30" x2="35.2" y2="248.30" stroke="#d0d0d0" stroke-width="0.6"/>
<line x1="32.3" y1="245.74" x2="35.2" y2="245.74" stroke="#d0d0d0" stroke-width="0.6"/>
<line x1="32.3" y1="243.18" x2="35.2" y2="243.18" stroke="#d0d0d0" stroke-width="0.6"/>
<line x1="32.3" y1="240.62" x2="35.2" y2="240.62" stroke="#d0d0d0" stroke-width="0.6"/>
<line x1="32.3" y1="238.06" x2="35.2" y2="238.06" stroke="#d0d0d0" stroke-width="0.6"/>
<line x1="32.3" y1="235.50" x2="35.2" y2="235.50" stroke="#d0d0d0" stroke-width="0.6"/>
<line x1="32.3" y1="232.94" x2="35.2" y2="232.94" stroke="#d0d0d0" stroke-width="0.6"/>
<line x1="32.3" y1="230.38" x2="35.2" y2="230.38" stroke="#d0d0d0" stroke-width="0.6"/>
<line x1="32.3" y1="227.82" x2="35.2" y2="227.82" stroke="#d0d0d0" stroke-width="0.6"/>
<line x1="32.3" y1="225.26" x2="35.2" y2="225.26" stroke="#d0d0d0" stroke-width="0.6"/>
<line x1="32.3" y1="222.70" x2="35.2" y2="222.70" stroke="#d0d0d0" stroke-width="0.6"/>
<line x1="32.3" y1="220.14" x2="35.2" y2="220.14" stroke="#d0d0d0" stroke-width="0.6"/>
<line x1="32.3" y1="217.58" x2="35.2" y2="217.58" stroke="#d0d0d0" stroke-width="0.6"/>
<line x1="32.3" y1="215.02" x2="35.2" y2="215.02" stroke="#d0d0d0" stroke-width="0.6"/>
<line x1="32.3" y1="212.46" x2="35.2" y2="212.46" stroke="#d0d0d0" stroke-width="0.6"/>
<line x1="32.3" y1="209.90" x2="35.2" y2="209.90" stroke="#d0d0d0" stroke-width="0.6"/>
<line x1="32.3" y1="207.34" x2="35.2" y2="207.34" stroke="#d0d0d0" stroke-width="0.6"/>
<line x1="32.3" y1="204.78" x2="35.2" y2="204.78" stroke="#d0d0d0" stroke-width="0.6"/>
<line x1="32.3" y1="202.22" x2="35.2" y2="202.22" stroke="#d0d0d0" stroke-width="0.6"/>
<line x1="32.3" y1="199.66" x2="35.2" y2="199.66" stroke="#d0d0d0" stroke-width="0.6"/>
<line x1="32.3" y1="197.10" x2="35.2" y2="197.10" stroke="#d0d0d0" stroke-width="0.6"/>
<line x1="32.3" y1="194.54" x2="35.2" y2="194.54" stroke="#d0d0d0" stroke-width="0.6"/>
<line x1="32.3" y1="191.98" x2="35.2" y2="191.98" stroke="#d0d0d0" stroke-width="0.6"/>
<line x1="32.3" y1="189.42" x2="35.2" y2="189.42" stroke="#d0d0d0" stroke-width="0.6"/>
<line x1="32.3" y1="186.86" x2="35.2" y2="186.86" stroke="#d0d0d0" stroke-width="0.6"/>
<line x1="32.3" y1="184.30" x2="35.2" y2="184.30" stroke="#d0d0d0" stroke-width="0.6"/>
<line x1="32.3" y1="181.74" x2="35.2" y2="181.74" stroke="#d0d0d0" stroke-width="0.6"/>
<line x1="32.3" y1="179.18" x2="35.2" y2="179.18" stroke="#d0d0d0" stroke-width="0.6"/>
<line x1="32.3" y1="176.62" x2="35.2" y2="176.62" stroke="#d0d0d0" stroke-width="0.6"/>
<line x1="32.3" y1="174.06" x2="35.2" y2="174.06" stroke="#d0d0d0" stroke-width="0.6"/>
<line x1="32.3" y1="171.50" x2="35.2" y2="171.50" stroke="#d0d0d0" stroke-width="0.6"/>
<line x1="32.3" y1="168.94" x2="35.2" y2="168.94" stroke="#d0d0d0" stroke-width="0.6"/>
<line x1="32.3" y1="166.38" x2="35.2" y2="166.38" stroke="#d0d0d0" stroke-width="0.6"/>
<line x1="32.3" y1="163.82" x2="35.2" y2="163.82" stroke="#d0d0d0" stroke-width="0.6"/>
<line x1="32.3" y1="161.26" x2="35.2" y2="161.26" stroke="#d0d0d0" stroke-width="0.6"/>
<line x1="32.3" y1="158.70" x2="35.2" y2="158.70" stroke="#d0d0d0" stroke-width="0.6"/>
<line x1="34.00" y1="286.7" x2="34.00" y2="289.0" stroke="#d0d0d0" stroke-width="0.7"/>
<line x1="44.16" y1="286.7" x2="44.16" y2="289.0" stroke="#d0d0d0" stroke-width="0.7"/>
<line x1="54.32" y1="286.7" x2="54.32" y2="289.0" stroke="#d0d0d0" stroke-width="0.7"/>
<line x1="64.48" y1="286.7" x2="64.48" y2="289.0" stroke="#d0d0d0" stroke-width="0.7"/>
<line x1="74.64" y1="286.7" x2="74.64" y2="289.0" stroke="#d0d0d0" stroke-width="0.7"/>
<line x1="84.80" y1="286.7" x2="84.80" y2="289.0" stroke="#d0d0d0" stroke-width="0.7"/>
<line x1="94.96" y1="286.7" x2="94.96" y2="289.0" stroke="#d0d0d0" stroke-width="0.7"/>
<line x1="105.12" y1="286.7" x2="105.12" y2="289.0" stroke="#d0d0d0" stroke-width="0.7"/>
<line x1="115.28" y1="286.7" x2="115.28" y2="289.0" stroke="#d0d0d0" stroke-width="0.7"/>
<line x1="125.44" y1="286.7" x2="125.44" y2="289.0" stroke="#d0d0d0" stroke-width="0.7"/>
<line x1="135.60" y1="286.7" x2="135.60" y2="289.0" stroke="#d0d0d0" stroke-width="0.7"/>
<line x1="145.76" y1="286.7" x2="145.76" y2="289.0" stroke="#d0d0d0" stroke-width="0.7"/>
<line x1="155.92" y1="286.7" x2="155.92" y2="289.0" stroke="#d0d0d0" stroke-width="0.7"/>
<line x1="166.08" y1="286.7" x2="166.08" y2="289.0" stroke="#d0d0d0" stroke-width="0.7"/>
<line x1="176.24" y1="286.7" x2="176.24" y2="289.0" stroke="#d0d0d0" stroke-width="0.7"/>
<line x1="186.40" y1="286.7" x2="186.40" y2="289.0" stroke="#d0d0d0" stroke-width="0.7"/>
<text x="27.0" y="289.1" font-size="7.8" fill="#595959" text-anchor="end" font-weight="normal" stroke="#595959" stroke-width="0.6" stroke-opacity="0.3">0</text>
<text x="27.0" y="276.3" font-size="7.8" fill="#595959" text-anchor="end" font-weight="normal" textLength="9.9" lengthAdjust="spacingAndGlyphs" stroke="#595959" stroke-width="0.6" stroke-opacity="0.3">0.1</text>
<text x="27.0" y="263.5" font-size="7.8" fill="#595959" text-anchor="end" font-weight="normal" textLength="9.9" lengthAdjust="spacingAndGlyphs" stroke="#595959" stroke-width="0.6" stroke-opacity="0.3">0.2</text>
<text x="27.0" y="250.7" font-size="7.8" fill="#595959" text-anchor="end" font-weight="normal" textLength="9.9" lengthAdjust="spacingAndGlyphs" stroke="#595959" stroke-width="0.6" stroke-opacity="0.3">0.3</text>
<text x="27.0" y="237.9" font-size="7.8" fill="#595959" text-anchor="end" font-weight="normal" textLength="9.9" lengthAdjust="spacingAndGlyphs" stroke="#595959" stroke-width="0.6" stroke-opacity="0.3">0.4</text>
<text x="27.0" y="225.1" font-size="7.8" fill="#595959" text-anchor="end" font-weight="normal" textLength="9.9" lengthAdjust="spacingAndGlyphs" stroke="#595959" stroke-width="0.6" stroke-opacity="0.3">0.5</text>
<text x="27.0" y="212.3" font-size="7.8" fill="#595959" text-anchor="end" font-weight="normal" textLength="9.9" lengthAdjust="spacingAndGlyphs" stroke="#595959" stroke-width="0.6" stroke-opacity="0.3">0.6</text>
<text x="27.0" y="199.5" font-size="7.8" fill="#595959" text-anchor="end" font-weight="normal" textLength="9.9" lengthAdjust="spacingAndGlyphs" stroke="#595959" stroke-width="0.6" stroke-opacity="0.3">0.7</text>
<text x="27.0" y="186.7" font-size="7.8" fill="#595959" text-anchor="end" font-weight="normal" textLength="9.9" lengthAdjust="spacingAndGlyphs" stroke="#595959" stroke-width="0.6" stroke-opacity="0.3">0.8</text>
<text x="27.0" y="173.9" font-size="7.8" fill="#595959" text-anchor="end" font-weight="normal" textLength="9.9" lengthAdjust="spacingAndGlyphs" stroke="#595959" stroke-width="0.6" stroke-opacity="0.3">0.9</text>
<text x="27.0" y="161.1" font-size="7.8" fill="#595959" text-anchor="end" font-weight="normal" stroke="#595959" stroke-width="0.6" stroke-opacity="0.3">1</text>
<text x="34.0" y="299.3" font-size="7.8" fill="#595959" text-anchor="middle" font-weight="normal" stroke="#595959" stroke-width="0.6" stroke-opacity="0.3">0</text>
<text x="84.8" y="299.3" font-size="7.8" fill="#595959" text-anchor="middle" font-weight="normal" textLength="8.4" lengthAdjust="spacingAndGlyphs" stroke="#595959" stroke-width="0.6" stroke-opacity="0.3">10</text>
<text x="135.6" y="299.3" font-size="7.8" fill="#595959" text-anchor="middle" font-weight="normal" textLength="8.4" lengthAdjust="spacingAndGlyphs" stroke="#595959" stroke-width="0.6" stroke-opacity="0.3">20</text>
<text x="186.4" y="299.3" font-size="7.8" fill="#595959" text-anchor="middle" font-weight="normal" textLength="8.4" lengthAdjust="spacingAndGlyphs" stroke="#595959" stroke-width="0.6" stroke-opacity="0.3">30</text>
<text x="100.9" y="301.5" font-size="8.5" fill="#595959" text-anchor="start" font-weight="normal" textLength="18.9" lengthAdjust="spacingAndGlyphs" stroke="#595959" stroke-width="0.6" stroke-opacity="0.2">Years</text>
<line x1="208.6" y1="274.16" x2="361.3" y2="274.16" stroke="#e3e3e3" stroke-width="0.8"/>
<line x1="208.6" y1="261.92" x2="361.3" y2="261.92" stroke="#e3e3e3" stroke-width="0.8"/>
<line x1="208.6" y1="249.68" x2="361.3" y2="249.68" stroke="#e3e3e3" stroke-width="0.8"/>
<line x1="208.6" y1="237.44" x2="361.3" y2="237.44" stroke="#e3e3e3" stroke-width="0.8"/>
<line x1="208.6" y1="225.20" x2="361.3" y2="225.20" stroke="#e3e3e3" stroke-width="0.8"/>
<line x1="208.6" y1="212.96" x2="361.3" y2="212.96" stroke="#e3e3e3" stroke-width="0.8"/>
<line x1="208.6" y1="200.72" x2="361.3" y2="200.72" stroke="#e3e3e3" stroke-width="0.8"/>
<line x1="208.6" y1="188.48" x2="361.3" y2="188.48" stroke="#e3e3e3" stroke-width="0.8"/>
<line x1="208.6" y1="176.24" x2="361.3" y2="176.24" stroke="#e3e3e3" stroke-width="0.8"/>
<line x1="208.6" y1="164.00" x2="361.3" y2="164.00" stroke="#e3e3e3" stroke-width="0.8"/>
<line x1="259.50" y1="164.0" x2="259.50" y2="286.4" stroke="#e3e3e3" stroke-width="0.8"/>
<line x1="310.40" y1="164.0" x2="310.40" y2="286.4" stroke="#e3e3e3" stroke-width="0.8"/>
<line x1="361.30" y1="164.0" x2="361.30" y2="286.4" stroke="#e3e3e3" stroke-width="0.8"/>
<line x1="208.60" y1="164.0" x2="208.60" y2="286.4" stroke="#e2e2e2" stroke-width="0.7"/>
<line x1="208.6" y1="286.40" x2="361.3" y2="286.40" stroke="#d0d0d0" stroke-width="0.8"/>
<line x1="206.9" y1="286.40" x2="209.8" y2="286.40" stroke="#d0d0d0" stroke-width="0.6"/>
<line x1="206.9" y1="283.95" x2="209.8" y2="283.95" stroke="#d0d0d0" stroke-width="0.6"/>
<line x1="206.9" y1="281.50" x2="209.8" y2="281.50" stroke="#d0d0d0" stroke-width="0.6"/>
<line x1="206.9" y1="279.06" x2="209.8" y2="279.06" stroke="#d0d0d0" stroke-width="0.6"/>
<line x1="206.9" y1="276.61" x2="209.8" y2="276.61" stroke="#d0d0d0" stroke-width="0.6"/>
<line x1="206.9" y1="274.16" x2="209.8" y2="274.16" stroke="#d0d0d0" stroke-width="0.6"/>
<line x1="206.9" y1="271.71" x2="209.8" y2="271.71" stroke="#d0d0d0" stroke-width="0.6"/>
<line x1="206.9" y1="269.26" x2="209.8" y2="269.26" stroke="#d0d0d0" stroke-width="0.6"/>
<line x1="206.9" y1="266.82" x2="209.8" y2="266.82" stroke="#d0d0d0" stroke-width="0.6"/>
<line x1="206.9" y1="264.37" x2="209.8" y2="264.37" stroke="#d0d0d0" stroke-width="0.6"/>
<line x1="206.9" y1="261.92" x2="209.8" y2="261.92" stroke="#d0d0d0" stroke-width="0.6"/>
<line x1="206.9" y1="259.47" x2="209.8" y2="259.47" stroke="#d0d0d0" stroke-width="0.6"/>
<line x1="206.9" y1="257.02" x2="209.8" y2="257.02" stroke="#d0d0d0" stroke-width="0.6"/>
<line x1="206.9" y1="254.58" x2="209.8" y2="254.58" stroke="#d0d0d0" stroke-width="0.6"/>
<line x1="206.9" y1="252.13" x2="209.8" y2="252.13" stroke="#d0d0d0" stroke-width="0.6"/>
<line x1="206.9" y1="249.68" x2="209.8" y2="249.68" stroke="#d0d0d0" stroke-width="0.6"/>
<line x1="206.9" y1="247.23" x2="209.8" y2="247.23" stroke="#d0d0d0" stroke-width="0.6"/>
<line x1="206.9" y1="244.78" x2="209.8" y2="244.78" stroke="#d0d0d0" stroke-width="0.6"/>
<line x1="206.9" y1="242.34" x2="209.8" y2="242.34" stroke="#d0d0d0" stroke-width="0.6"/>
<line x1="206.9" y1="239.89" x2="209.8" y2="239.89" stroke="#d0d0d0" stroke-width="0.6"/>
<line x1="206.9" y1="237.44" x2="209.8" y2="237.44" stroke="#d0d0d0" stroke-width="0.6"/>
<line x1="206.9" y1="234.99" x2="209.8" y2="234.99" stroke="#d0d0d0" stroke-width="0.6"/>
<line x1="206.9" y1="232.54" x2="209.8" y2="232.54" stroke="#d0d0d0" stroke-width="0.6"/>
<line x1="206.9" y1="230.10" x2="209.8" y2="230.10" stroke="#d0d0d0" stroke-width="0.6"/>
<line x1="206.9" y1="227.65" x2="209.8" y2="227.65" stroke="#d0d0d0" stroke-width="0.6"/>
<line x1="206.9" y1="225.20" x2="209.8" y2="225.20" stroke="#d0d0d0" stroke-width="0.6"/>
<line x1="206.9" y1="222.75" x2="209.8" y2="222.75" stroke="#d0d0d0" stroke-width="0.6"/>
<line x1="206.9" y1="220.30" x2="209.8" y2="220.30" stroke="#d0d0d0" stroke-width="0.6"/>
<line x1="206.9" y1="217.86" x2="209.8" y2="217.86" stroke="#d0d0d0" stroke-width="0.6"/>
<line x1="206.9" y1="215.41" x2="209.8" y2="215.41" stroke="#d0d0d0" stroke-width="0.6"/>
<line x1="206.9" y1="212.96" x2="209.8" y2="212.96" stroke="#d0d0d0" stroke-width="0.6"/>
<line x1="206.9" y1="210.51" x2="209.8" y2="210.51" stroke="#d0d0d0" stroke-width="0.6"/>
<line x1="206.9" y1="208.06" x2="209.8" y2="208.06" stroke="#d0d0d0" stroke-width="0.6"/>
<line x1="206.9" y1="205.62" x2="209.8" y2="205.62" stroke="#d0d0d0" stroke-width="0.6"/>
<line x1="206.9" y1="203.17" x2="209.8" y2="203.17" stroke="#d0d0d0" stroke-width="0.6"/>
<line x1="206.9" y1="200.72" x2="209.8" y2="200.72" stroke="#d0d0d0" stroke-width="0.6"/>
<line x1="206.9" y1="198.27" x2="209.8" y2="198.27" stroke="#d0d0d0" stroke-width="0.6"/>
<line x1="206.9" y1="195.82" x2="209.8" y2="195.82" stroke="#d0d0d0" stroke-width="0.6"/>
<line x1="206.9" y1="193.38" x2="209.8" y2="193.38" stroke="#d0d0d0" stroke-width="0.6"/>
<line x1="206.9" y1="190.93" x2="209.8" y2="190.93" stroke="#d0d0d0" stroke-width="0.6"/>
<line x1="206.9" y1="188.48" x2="209.8" y2="188.48" stroke="#d0d0d0" stroke-width="0.6"/>
<line x1="206.9" y1="186.03" x2="209.8" y2="186.03" stroke="#d0d0d0" stroke-width="0.6"/>
<line x1="206.9" y1="183.58" x2="209.8" y2="183.58" stroke="#d0d0d0" stroke-width="0.6"/>
<line x1="206.9" y1="181.14" x2="209.8" y2="181.14" stroke="#d0d0d0" stroke-width="0.6"/>
<line x1="206.9" y1="178.69" x2="209.8" y2="178.69" stroke="#d0d0d0" stroke-width="0.6"/>
<line x1="206.9" y1="176.24" x2="209.8" y2="176.24" stroke="#d0d0d0" stroke-width="0.6"/>
<line x1="206.9" y1="173.79" x2="209.8" y2="173.79" stroke="#d0d0d0" stroke-width="0.6"/>
<line x1="206.9" y1="171.34" x2="209.8" y2="171.34" stroke="#d0d0d0" stroke-width="0.6"/>
<line x1="206.9" y1="168.90" x2="209.8" y2="168.90" stroke="#d0d0d0" stroke-width="0.6"/>
<line x1="206.9" y1="166.45" x2="209.8" y2="166.45" stroke="#d0d0d0" stroke-width="0.6"/>
<line x1="206.9" y1="164.00" x2="209.8" y2="164.00" stroke="#d0d0d0" stroke-width="0.6"/>
<line x1="208.60" y1="286.4" x2="208.60" y2="288.7" stroke="#d0d0d0" stroke-width="0.7"/>
<line x1="218.78" y1="286.4" x2="218.78" y2="288.7" stroke="#d0d0d0" stroke-width="0.7"/>
<line x1="228.96" y1="286.4" x2="228.96" y2="288.7" stroke="#d0d0d0" stroke-width="0.7"/>
<line x1="239.14" y1="286.4" x2="239.14" y2="288.7" stroke="#d0d0d0" stroke-width="0.7"/>
<line x1="249.32" y1="286.4" x2="249.32" y2="288.7" stroke="#d0d0d0" stroke-width="0.7"/>
<line x1="259.50" y1="286.4" x2="259.50" y2="288.7" stroke="#d0d0d0" stroke-width="0.7"/>
<line x1="269.68" y1="286.4" x2="269.68" y2="288.7" stroke="#d0d0d0" stroke-width="0.7"/>
<line x1="279.86" y1="286.4" x2="279.86" y2="288.7" stroke="#d0d0d0" stroke-width="0.7"/>
<line x1="290.04" y1="286.4" x2="290.04" y2="288.7" stroke="#d0d0d0" stroke-width="0.7"/>
<line x1="300.22" y1="286.4" x2="300.22" y2="288.7" stroke="#d0d0d0" stroke-width="0.7"/>
<line x1="310.40" y1="286.4" x2="310.40" y2="288.7" stroke="#d0d0d0" stroke-width="0.7"/>
<line x1="320.58" y1="286.4" x2="320.58" y2="288.7" stroke="#d0d0d0" stroke-width="0.7"/>
<line x1="330.76" y1="286.4" x2="330.76" y2="288.7" stroke="#d0d0d0" stroke-width="0.7"/>
<line x1="340.94" y1="286.4" x2="340.94" y2="288.7" stroke="#d0d0d0" stroke-width="0.7"/>
<line x1="351.12" y1="286.4" x2="351.12" y2="288.7" stroke="#d0d0d0" stroke-width="0.7"/>
<line x1="361.30" y1="286.4" x2="361.30" y2="288.7" stroke="#d0d0d0" stroke-width="0.7"/>
<text x="201.6" y="288.8" font-size="7.8" fill="#595959" text-anchor="end" font-weight="normal" stroke="#595959" stroke-width="0.6" stroke-opacity="0.3">0</text>
<text x="201.6" y="276.6" font-size="7.8" fill="#595959" text-anchor="end" font-weight="normal" textLength="9.9" lengthAdjust="spacingAndGlyphs" stroke="#595959" stroke-width="0.6" stroke-opacity="0.3">0.1</text>
<text x="201.6" y="264.3" font-size="7.8" fill="#595959" text-anchor="end" font-weight="normal" textLength="9.9" lengthAdjust="spacingAndGlyphs" stroke="#595959" stroke-width="0.6" stroke-opacity="0.3">0.2</text>
<text x="201.6" y="252.1" font-size="7.8" fill="#595959" text-anchor="end" font-weight="normal" textLength="9.9" lengthAdjust="spacingAndGlyphs" stroke="#595959" stroke-width="0.6" stroke-opacity="0.3">0.3</text>
<text x="201.6" y="239.8" font-size="7.8" fill="#595959" text-anchor="end" font-weight="normal" textLength="9.9" lengthAdjust="spacingAndGlyphs" stroke="#595959" stroke-width="0.6" stroke-opacity="0.3">0.4</text>
<text x="201.6" y="227.6" font-size="7.8" fill="#595959" text-anchor="end" font-weight="normal" textLength="9.9" lengthAdjust="spacingAndGlyphs" stroke="#595959" stroke-width="0.6" stroke-opacity="0.3">0.5</text>
<text x="201.6" y="215.4" font-size="7.8" fill="#595959" text-anchor="end" font-weight="normal" textLength="9.9" lengthAdjust="spacingAndGlyphs" stroke="#595959" stroke-width="0.6" stroke-opacity="0.3">0.6</text>
<text x="201.6" y="203.1" font-size="7.8" fill="#595959" text-anchor="end" font-weight="normal" textLength="9.9" lengthAdjust="spacingAndGlyphs" stroke="#595959" stroke-width="0.6" stroke-opacity="0.3">0.7</text>
<text x="201.6" y="190.9" font-size="7.8" fill="#595959" text-anchor="end" font-weight="normal" textLength="9.9" lengthAdjust="spacingAndGlyphs" stroke="#595959" stroke-width="0.6" stroke-opacity="0.3">0.8</text>
<text x="201.6" y="178.6" font-size="7.8" fill="#595959" text-anchor="end" font-weight="normal" textLength="9.9" lengthAdjust="spacingAndGlyphs" stroke="#595959" stroke-width="0.6" stroke-opacity="0.3">0.9</text>
<text x="201.6" y="166.4" font-size="7.8" fill="#595959" text-anchor="end" font-weight="normal" stroke="#595959" stroke-width="0.6" stroke-opacity="0.3">1</text>
<text x="208.6" y="299.0" font-size="7.8" fill="#595959" text-anchor="middle" font-weight="normal" stroke="#595959" stroke-width="0.6" stroke-opacity="0.3">0</text>
<text x="259.5" y="299.0" font-size="7.8" fill="#595959" text-anchor="middle" font-weight="normal" textLength="8.4" lengthAdjust="spacingAndGlyphs" stroke="#595959" stroke-width="0.6" stroke-opacity="0.3">10</text>
<text x="310.4" y="299.0" font-size="7.8" fill="#595959" text-anchor="middle" font-weight="normal" textLength="8.4" lengthAdjust="spacingAndGlyphs" stroke="#595959" stroke-width="0.6" stroke-opacity="0.3">20</text>
<text x="361.3" y="299.0" font-size="7.8" fill="#595959" text-anchor="middle" font-weight="normal" textLength="8.4" lengthAdjust="spacingAndGlyphs" stroke="#595959" stroke-width="0.6" stroke-opacity="0.3">30</text>
<text x="275.9" y="301.7" font-size="8.5" fill="#595959" text-anchor="start" font-weight="normal" textLength="18.9" lengthAdjust="spacingAndGlyphs" stroke="#595959" stroke-width="0.6" stroke-opacity="0.2">Years</text>
<line x1="383.9" y1="275.96" x2="537.3" y2="275.96" stroke="#e3e3e3" stroke-width="0.8"/>
<line x1="383.9" y1="263.42" x2="537.3" y2="263.42" stroke="#e3e3e3" stroke-width="0.8"/>
<line x1="383.9" y1="250.88" x2="537.3" y2="250.88" stroke="#e3e3e3" stroke-width="0.8"/>
<line x1="383.9" y1="238.34" x2="537.3" y2="238.34" stroke="#e3e3e3" stroke-width="0.8"/>
<line x1="383.9" y1="225.80" x2="537.3" y2="225.80" stroke="#e3e3e3" stroke-width="0.8"/>
<line x1="383.9" y1="213.26" x2="537.3" y2="213.26" stroke="#e3e3e3" stroke-width="0.8"/>
<line x1="383.9" y1="200.72" x2="537.3" y2="200.72" stroke="#e3e3e3" stroke-width="0.8"/>
<line x1="383.9" y1="188.18" x2="537.3" y2="188.18" stroke="#e3e3e3" stroke-width="0.8"/>
<line x1="383.9" y1="175.64" x2="537.3" y2="175.64" stroke="#e3e3e3" stroke-width="0.8"/>
<line x1="383.9" y1="163.10" x2="537.3" y2="163.10" stroke="#e3e3e3" stroke-width="0.8"/>
<line x1="435.03" y1="163.1" x2="435.03" y2="288.5" stroke="#e3e3e3" stroke-width="0.8"/>
<line x1="486.16" y1="163.1" x2="486.16" y2="288.5" stroke="#e3e3e3" stroke-width="0.8"/>
<line x1="537.29" y1="163.1" x2="537.29" y2="288.5" stroke="#e3e3e3" stroke-width="0.8"/>
<line x1="383.90" y1="163.1" x2="383.90" y2="288.5" stroke="#e2e2e2" stroke-width="0.7"/>
<line x1="383.9" y1="288.50" x2="537.3" y2="288.50" stroke="#d0d0d0" stroke-width="0.8"/>
<line x1="382.2" y1="288.50" x2="385.1" y2="288.50" stroke="#d0d0d0" stroke-width="0.6"/>
<line x1="382.2" y1="285.99" x2="385.1" y2="285.99" stroke="#d0d0d0" stroke-width="0.6"/>
<line x1="382.2" y1="283.48" x2="385.1" y2="283.48" stroke="#d0d0d0" stroke-width="0.6"/>
<line x1="382.2" y1="280.98" x2="385.1" y2="280.98" stroke="#d0d0d0" stroke-width="0.6"/>
<line x1="382.2" y1="278.47" x2="385.1" y2="278.47" stroke="#d0d0d0" stroke-width="0.6"/>
<line x1="382.2" y1="275.96" x2="385.1" y2="275.96" stroke="#d0d0d0" stroke-width="0.6"/>
<line x1="382.2" y1="273.45" x2="385.1" y2="273.45" stroke="#d0d0d0" stroke-width="0.6"/>
<line x1="382.2" y1="270.94" x2="385.1" y2="270.94" stroke="#d0d0d0" stroke-width="0.6"/>
<line x1="382.2" y1="268.44" x2="385.1" y2="268.44" stroke="#d0d0d0" stroke-width="0.6"/>
<line x1="382.2" y1="265.93" x2="385.1" y2="265.93" stroke="#d0d0d0" stroke-width="0.6"/>
<line x1="382.2" y1="263.42" x2="385.1" y2="263.42" stroke="#d0d0d0" stroke-width="0.6"/>
<line x1="382.2" y1="260.91" x2="385.1" y2="260.91" stroke="#d0d0d0" stroke-width="0.6"/>
<line x1="382.2" y1="258.40" x2="385.1" y2="258.40" stroke="#d0d0d0" stroke-width="0.6"/>
<line x1="382.2" y1="255.90" x2="385.1" y2="255.90" stroke="#d0d0d0" stroke-width="0.6"/>
<line x1="382.2" y1="253.39" x2="385.1" y2="253.39" stroke="#d0d0d0" stroke-width="0.6"/>
<line x1="382.2" y1="250.88" x2="385.1" y2="250.88" stroke="#d0d0d0" stroke-width="0.6"/>
<line x1="382.2" y1="248.37" x2="385.1" y2="248.37" stroke="#d0d0d0" stroke-width="0.6"/>
<line x1="382.2" y1="245.86" x2="385.1" y2="245.86" stroke="#d0d0d0" stroke-width="0.6"/>
<line x1="382.2" y1="243.36" x2="385.1" y2="243.36" stroke="#d0d0d0" stroke-width="0.6"/>
<line x1="382.2" y1="240.85" x2="385.1" y2="240.85" stroke="#d0d0d0" stroke-width="0.6"/>
<line x1="382.2" y1="238.34" x2="385.1" y2="238.34" stroke="#d0d0d0" stroke-width="0.6"/>
<line x1="382.2" y1="235.83" x2="385.1" y2="235.83" stroke="#d0d0d0" stroke-width="0.6"/>
<line x1="382.2" y1="233.32" x2="385.1" y2="233.32" stroke="#d0d0d0" stroke-width="0.6"/>
<line x1="382.2" y1="230.82" x2="385.1" y2="230.82" stroke="#d0d0d0" stroke-width="0.6"/>
<line x1="382.2" y1="228.31" x2="385.1" y2="228.31" stroke="#d0d0d0" stroke-width="0.6"/>
<line x1="382.2" y1="225.80" x2="385.1" y2="225.80" stroke="#d0d0d0" stroke-width="0.6"/>
<line x1="382.2" y1="223.29" x2="385.1" y2="223.29" stroke="#d0d0d0" stroke-width="0.6"/>
<line x1="382.2" y1="220.78" x2="385.1" y2="220.78" stroke="#d0d0d0" stroke-width="0.6"/>
<line x1="382.2" y1="218.28" x2="385.1" y2="218.28" stroke="#d0d0d0" stroke-width="0.6"/>
<line x1="382.2" y1="215.77" x2="385.1" y2="215.77" stroke="#d0d0d0" stroke-width="0.6"/>
<line x1="382.2" y1="213.26" x2="385.1" y2="213.26" stroke="#d0d0d0" stroke-width="0.6"/>
<line x1="382.2" y1="210.75" x2="385.1" y2="210.75" stroke="#d0d0d0" stroke-width="0.6"/>
<line x1="382.2" y1="208.24" x2="385.1" y2="208.24" stroke="#d0d0d0" stroke-width="0.6"/>
<line x1="382.2" y1="205.74" x2="385.1" y2="205.74" stroke="#d0d0d0" stroke-width="0.6"/>
<line x1="382.2" y1="203.23" x2="385.1" y2="203.23" stroke="#d0d0d0" stroke-width="0.6"/>
<line x1="382.2" y1="200.72" x2="385.1" y2="200.72" stroke="#d0d0d0" stroke-width="0.6"/>
<line x1="382.2" y1="198.21" x2="385.1" y2="198.21" stroke="#d0d0d0" stroke-width="0.6"/>
<line x1="382.2" y1="195.70" x2="385.1" y2="195.70" stroke="#d0d0d0" stroke-width="0.6"/>
<line x1="382.2" y1="193.20" x2="385.1" y2="193.20" stroke="#d0d0d0" stroke-width="0.6"/>
<line x1="382.2" y1="190.69" x2="385.1" y2="190.69" stroke="#d0d0d0" stroke-width="0.6"/>
<line x1="382.2" y1="188.18" x2="385.1" y2="188.18" stroke="#d0d0d0" stroke-width="0.6"/>
<line x1="382.2" y1="185.67" x2="385.1" y2="185.67" stroke="#d0d0d0" stroke-width="0.6"/>
<line x1="382.2" y1="183.16" x2="385.1" y2="183.16" stroke="#d0d0d0" stroke-width="0.6"/>
<line x1="382.2" y1="180.66" x2="385.1" y2="180.66" stroke="#d0d0d0" stroke-width="0.6"/>
<line x1="382.2" y1="178.15" x2="385.1" y2="178.15" stroke="#d0d0d0" stroke-width="0.6"/>
<line x1="382.2" y1="175.64" x2="385.1" y2="175.64" stroke="#d0d0d0" stroke-width="0.6"/>
<line x1="382.2" y1="173.13" x2="385.1" y2="173.13" stroke="#d0d0d0" stroke-width="0.6"/>
<line x1="382.2" y1="170.62" x2="385.1" y2="170.62" stroke="#d0d0d0" stroke-width="0.6"/>
<line x1="382.2" y1="168.12" x2="385.1" y2="168.12" stroke="#d0d0d0" stroke-width="0.6"/>
<line x1="382.2" y1="165.61" x2="385.1" y2="165.61" stroke="#d0d0d0" stroke-width="0.6"/>
<line x1="382.2" y1="163.10" x2="385.1" y2="163.10" stroke="#d0d0d0" stroke-width="0.6"/>
<line x1="383.90" y1="288.5" x2="383.90" y2="290.8" stroke="#d0d0d0" stroke-width="0.7"/>
<line x1="394.13" y1="288.5" x2="394.13" y2="290.8" stroke="#d0d0d0" stroke-width="0.7"/>
<line x1="404.35" y1="288.5" x2="404.35" y2="290.8" stroke="#d0d0d0" stroke-width="0.7"/>
<line x1="414.58" y1="288.5" x2="414.58" y2="290.8" stroke="#d0d0d0" stroke-width="0.7"/>
<line x1="424.80" y1="288.5" x2="424.80" y2="290.8" stroke="#d0d0d0" stroke-width="0.7"/>
<line x1="435.03" y1="288.5" x2="435.03" y2="290.8" stroke="#d0d0d0" stroke-width="0.7"/>
<line x1="445.26" y1="288.5" x2="445.26" y2="290.8" stroke="#d0d0d0" stroke-width="0.7"/>
<line x1="455.48" y1="288.5" x2="455.48" y2="290.8" stroke="#d0d0d0" stroke-width="0.7"/>
<line x1="465.71" y1="288.5" x2="465.71" y2="290.8" stroke="#d0d0d0" stroke-width="0.7"/>
<line x1="475.93" y1="288.5" x2="475.93" y2="290.8" stroke="#d0d0d0" stroke-width="0.7"/>
<line x1="486.16" y1="288.5" x2="486.16" y2="290.8" stroke="#d0d0d0" stroke-width="0.7"/>
<line x1="496.39" y1="288.5" x2="496.39" y2="290.8" stroke="#d0d0d0" stroke-width="0.7"/>
<line x1="506.61" y1="288.5" x2="506.61" y2="290.8" stroke="#d0d0d0" stroke-width="0.7"/>
<line x1="516.84" y1="288.5" x2="516.84" y2="290.8" stroke="#d0d0d0" stroke-width="0.7"/>
<line x1="527.06" y1="288.5" x2="527.06" y2="290.8" stroke="#d0d0d0" stroke-width="0.7"/>
<line x1="537.29" y1="288.5" x2="537.29" y2="290.8" stroke="#d0d0d0" stroke-width="0.7"/>
<text x="376.9" y="290.9" font-size="7.8" fill="#595959" text-anchor="end" font-weight="normal" stroke="#595959" stroke-width="0.6" stroke-opacity="0.3">0</text>
<text x="376.9" y="278.4" font-size="7.8" fill="#595959" text-anchor="end" font-weight="normal" textLength="9.9" lengthAdjust="spacingAndGlyphs" stroke="#595959" stroke-width="0.6" stroke-opacity="0.3">0.1</text>
<text x="376.9" y="265.8" font-size="7.8" fill="#595959" text-anchor="end" font-weight="normal" textLength="9.9" lengthAdjust="spacingAndGlyphs" stroke="#595959" stroke-width="0.6" stroke-opacity="0.3">0.2</text>
<text x="376.9" y="253.3" font-size="7.8" fill="#595959" text-anchor="end" font-weight="normal" textLength="9.9" lengthAdjust="spacingAndGlyphs" stroke="#595959" stroke-width="0.6" stroke-opacity="0.3">0.3</text>
<text x="376.9" y="240.7" font-size="7.8" fill="#595959" text-anchor="end" font-weight="normal" textLength="9.9" lengthAdjust="spacingAndGlyphs" stroke="#595959" stroke-width="0.6" stroke-opacity="0.3">0.4</text>
<text x="376.9" y="228.2" font-size="7.8" fill="#595959" text-anchor="end" font-weight="normal" textLength="9.9" lengthAdjust="spacingAndGlyphs" stroke="#595959" stroke-width="0.6" stroke-opacity="0.3">0.5</text>
<text x="376.9" y="215.7" font-size="7.8" fill="#595959" text-anchor="end" font-weight="normal" textLength="9.9" lengthAdjust="spacingAndGlyphs" stroke="#595959" stroke-width="0.6" stroke-opacity="0.3">0.6</text>
<text x="376.9" y="203.1" font-size="7.8" fill="#595959" text-anchor="end" font-weight="normal" textLength="9.9" lengthAdjust="spacingAndGlyphs" stroke="#595959" stroke-width="0.6" stroke-opacity="0.3">0.7</text>
<text x="376.9" y="190.6" font-size="7.8" fill="#595959" text-anchor="end" font-weight="normal" textLength="9.9" lengthAdjust="spacingAndGlyphs" stroke="#595959" stroke-width="0.6" stroke-opacity="0.3">0.8</text>
<text x="376.9" y="178.0" font-size="7.8" fill="#595959" text-anchor="end" font-weight="normal" textLength="9.9" lengthAdjust="spacingAndGlyphs" stroke="#595959" stroke-width="0.6" stroke-opacity="0.3">0.9</text>
<text x="376.9" y="165.5" font-size="7.8" fill="#595959" text-anchor="end" font-weight="normal" stroke="#595959" stroke-width="0.6" stroke-opacity="0.3">1</text>
<text x="383.9" y="301.1" font-size="7.8" fill="#595959" text-anchor="middle" font-weight="normal" stroke="#595959" stroke-width="0.6" stroke-opacity="0.3">0</text>
<text x="435.0" y="301.1" font-size="7.8" fill="#595959" text-anchor="middle" font-weight="normal" textLength="8.4" lengthAdjust="spacingAndGlyphs" stroke="#595959" stroke-width="0.6" stroke-opacity="0.3">10</text>
<text x="486.2" y="301.1" font-size="7.8" fill="#595959" text-anchor="middle" font-weight="normal" textLength="8.4" lengthAdjust="spacingAndGlyphs" stroke="#595959" stroke-width="0.6" stroke-opacity="0.3">20</text>
<text x="537.3" y="301.1" font-size="7.8" fill="#595959" text-anchor="middle" font-weight="normal" textLength="8.4" lengthAdjust="spacingAndGlyphs" stroke="#595959" stroke-width="0.6" stroke-opacity="0.3">30</text>
<text x="451.5" y="301.7" font-size="8.5" fill="#595959" text-anchor="start" font-weight="normal" textLength="18.9" lengthAdjust="spacingAndGlyphs" stroke="#595959" stroke-width="0.6" stroke-opacity="0.2">Years</text>
<text transform="translate(13.4 73.2) rotate(-90)" x="0" y="0" font-size="8.6" fill="#595959" text-anchor="middle" textLength="56" lengthAdjust="spacingAndGlyphs" stroke="#595959" stroke-width="0.6" stroke-opacity="0.18">Overall Survival</text>
<text transform="translate(13.4 222.7) rotate(-90)" x="0" y="0" font-size="8.6" fill="#595959" text-anchor="middle" textLength="56" lengthAdjust="spacingAndGlyphs" stroke="#595959" stroke-width="0.6" stroke-opacity="0.18">Overall Survival</text>
<polyline points="34.4,9.3 115.4,9.3 115.4,25.3 141.0,25.3 141.0,41.3 171.0,41.3" fill="none" stroke="#9cc463" stroke-width="1.7" stroke-linejoin="miter"/>
<line x1="149.0" y1="39.7" x2="149.0" y2="42.9" stroke="#9cc463" stroke-width="0.9" stroke-opacity="0.7"/>
<line x1="152.5" y1="39.7" x2="152.5" y2="42.9" stroke="#9cc463" stroke-width="0.9" stroke-opacity="0.7"/>
<line x1="156.0" y1="39.7" x2="156.0" y2="42.9" stroke="#9cc463" stroke-width="0.9" stroke-opacity="0.7"/>
<polyline points="34.4,9.3 46.0,9.3 46.0,11.4 49.0,11.4 49.0,14.3 51.4,14.3 51.4,17.9 56.6,17.9 56.6,20.5 71.8,20.5 71.8,23.1 76.4,23.1 76.4,26.0 79.7,26.0 79.7,28.6 85.4,28.6 85.4,32.1 88.6,32.1 88.6,34.6 95.4,34.6 95.4,37.9 113.2,37.9 113.2,40.8 114.2,40.8 114.2,43.7 115.8,43.7 115.8,46.6 116.8,46.6 116.8,49.4 121.3,49.4 121.3,52.3 122.8,52.3 122.8,55.2 124.6,55.2 124.6,58.3 129.6,58.3 129.6,61.2 131.2,61.2 131.2,64.3 175.5,64.3" fill="none" stroke="#2a4a82" stroke-width="1.6" stroke-linejoin="miter"/>
<line x1="141.6" y1="62.7" x2="141.6" y2="65.9" stroke="#2a4a82" stroke-width="0.9" stroke-opacity="0.8"/>
<line x1="143.2" y1="62.7" x2="143.2" y2="65.9" stroke="#2a4a82" stroke-width="0.9" stroke-opacity="0.8"/>
<line x1="144.4" y1="62.7" x2="144.4" y2="65.9" stroke="#2a4a82" stroke-width="0.9" stroke-opacity="0.8"/>
<line x1="146.0" y1="62.7" x2="146.0" y2="65.9" stroke="#2a4a82" stroke-width="0.9" stroke-opacity="0.8"/>
<line x1="147.2" y1="62.7" x2="147.2" y2="65.9" stroke="#2a4a82" stroke-width="0.9" stroke-opacity="0.8"/>
<line x1="148.8" y1="62.7" x2="148.8" y2="65.9" stroke="#2a4a82" stroke-width="0.9" stroke-opacity="0.8"/>
<line x1="150.8" y1="62.7" x2="150.8" y2="65.9" stroke="#2a4a82" stroke-width="0.9" stroke-opacity="0.8"/>
<line x1="156.0" y1="62.7" x2="156.0" y2="65.9" stroke="#2a4a82" stroke-width="0.9" stroke-opacity="0.8"/>
<line x1="160.0" y1="62.7" x2="160.0" y2="65.9" stroke="#2a4a82" stroke-width="0.9" stroke-opacity="0.8"/>
<line x1="162.4" y1="62.7" x2="162.4" y2="65.9" stroke="#2a4a82" stroke-width="0.9" stroke-opacity="0.8"/>
<line x1="165.6" y1="62.7" x2="165.6" y2="65.9" stroke="#2a4a82" stroke-width="0.9" stroke-opacity="0.8"/>
<line x1="174.4" y1="62.7" x2="174.4" y2="65.9" stroke="#2a4a82" stroke-width="0.9" stroke-opacity="0.8"/>
<polyline points="208.7,9.3 225.3,9.3 225.3,12.4 237.7,12.4 237.7,15.3 241.0,15.3 241.0,18.4 246.0,18.4 246.0,21.6 250.3,21.6 250.3,24.7 253.1,24.7 253.1,27.7 261.0,27.7 261.0,30.8 265.3,30.8 265.3,34.0 273.1,34.0 273.1,37.1 299.9,37.1 299.9,40.0 303.9,40.0 303.9,42.9 305.3,42.9 305.3,46.4 308.9,46.4 308.9,49.6 330.7,49.6 330.7,53.1 337.1,53.1 337.1,63.1 342.6,63.1 342.6,70.3 354.3,70.3" fill="none" stroke="#9cc463" stroke-width="1.7" stroke-linejoin="miter"/>
<line x1="321.0" y1="48.0" x2="321.0" y2="51.2" stroke="#9cc463" stroke-width="0.9" stroke-opacity="0.7"/>
<line x1="323.0" y1="48.0" x2="323.0" y2="51.2" stroke="#9cc463" stroke-width="0.9" stroke-opacity="0.7"/>
<line x1="327.5" y1="48.0" x2="327.5" y2="51.2" stroke="#9cc463" stroke-width="0.9" stroke-opacity="0.7"/>
<line x1="329.5" y1="48.0" x2="329.5" y2="51.2" stroke="#9cc463" stroke-width="0.9" stroke-opacity="0.7"/>
<line x1="348.6" y1="68.7" x2="348.6" y2="71.9" stroke="#9cc463" stroke-width="0.9" stroke-opacity="0.7"/>
<line x1="354.3" y1="68.7" x2="354.3" y2="71.9" stroke="#9cc463" stroke-width="0.9" stroke-opacity="0.7"/>
<polyline points="208.7,9.3 216.3,9.3 217.3,11.3 218.2,12.3 220.7,12.8 221.6,14.2 222.6,16.2 224.6,18.1 226.0,19.1 227.0,20.6 228.0,22.0 229.9,22.5 231.4,24.0 232.3,25.9 233.8,27.9 235.8,29.3 237.6,30.6 239.4,31.6 240.0,33.0 240.4,36.1 242.4,39.0 244.0,41.0 246.9,43.9 249.7,45.7 252.6,47.1 254.0,48.9 255.4,52.0 256.9,52.9 258.3,53.4 260.4,56.0 262.6,57.4 264.7,58.6 267.6,59.6 269.7,60.6 271.9,61.7 273.3,63.4 275.4,64.3 278.3,65.3 280.4,66.7 282.6,67.1 285.4,68.1 288.0,69.1 289.7,69.9 291.9,70.7 298.3,70.7 300.4,72.0 302.6,73.1 306.1,73.4 308.3,74.3 312.6,74.6 313.3,76.7 313.6,80.3 317.6,80.3 319.0,81.7 321.1,83.1 328.0,83.1 329.3,83.6 330.7,84.3 332.1,86.4 333.6,88.3 335.7,88.9 337.1,90.0 354.3,90.0 354.6,96.4 355.4,97.1 355.7,102.1 357.4,102.1" fill="none" stroke="#2a4a82" stroke-width="2.4" stroke-linejoin="round"/>
<line x1="212.5" y1="7.7" x2="212.5" y2="10.9" stroke="#2a4a82" stroke-width="0.9" stroke-opacity="0.8"/>
<line x1="216.3" y1="7.7" x2="216.3" y2="10.9" stroke="#2a4a82" stroke-width="0.9" stroke-opacity="0.8"/>
<line x1="340.0" y1="88.4" x2="340.0" y2="91.6" stroke="#2a4a82" stroke-width="0.9" stroke-opacity="0.8"/>
<line x1="342.0" y1="88.4" x2="342.0" y2="91.6" stroke="#2a4a82" stroke-width="0.9" stroke-opacity="0.8"/>
<line x1="344.0" y1="88.4" x2="344.0" y2="91.6" stroke="#2a4a82" stroke-width="0.9" stroke-opacity="0.8"/>
<line x1="346.0" y1="88.4" x2="346.0" y2="91.6" stroke="#2a4a82" stroke-width="0.9" stroke-opacity="0.8"/>
<line x1="348.0" y1="88.4" x2="348.0" y2="91.6" stroke="#2a4a82" stroke-width="0.9" stroke-opacity="0.8"/>
<line x1="350.0" y1="88.4" x2="350.0" y2="91.6" stroke="#2a4a82" stroke-width="0.9" stroke-opacity="0.8"/>
<line x1="352.0" y1="88.4" x2="352.0" y2="91.6" stroke="#2a4a82" stroke-width="0.9" stroke-opacity="0.8"/>
<polyline points="384.0,8.8 433.6,8.8 433.6,27.5 482.0,27.5 482.0,46.1 523.6,46.1 523.6,76.9 525.7,76.9" fill="none" stroke="#9cc463" stroke-width="1.7" stroke-linejoin="miter"/>
<line x1="496.7" y1="44.5" x2="496.7" y2="47.7" stroke="#9cc463" stroke-width="0.9" stroke-opacity="0.7"/>
<line x1="513.1" y1="44.5" x2="513.1" y2="47.7" stroke="#9cc463" stroke-width="0.9" stroke-opacity="0.7"/>
<polyline points="384.0,8.8 389.7,8.8 389.7,16.1 391.7,16.1 391.7,22.6 401.7,22.6 401.7,30.1 407.9,30.1 407.9,37.5 409.0,37.5 409.0,43.9 410.7,43.9 410.7,50.3 422.6,50.3 422.6,57.9 438.2,57.9 438.2,65.1 483.9,65.1 483.9,72.4 491.7,72.4 491.7,80.0 517.6,80.0 517.6,99.3 521.4,99.3" fill="none" stroke="#2a4a82" stroke-width="1.6" stroke-linejoin="miter"/>
<line x1="500.5" y1="78.4" x2="500.5" y2="81.6" stroke="#2a4a82" stroke-width="0.9" stroke-opacity="0.8"/>
<line x1="503.0" y1="78.4" x2="503.0" y2="81.6" stroke="#2a4a82" stroke-width="0.9" stroke-opacity="0.8"/>
<line x1="505.5" y1="78.4" x2="505.5" y2="81.6" stroke="#2a4a82" stroke-width="0.9" stroke-opacity="0.8"/>
<line x1="508.0" y1="78.4" x2="508.0" y2="81.6" stroke="#2a4a82" stroke-width="0.9" stroke-opacity="0.8"/>
<line x1="510.7" y1="78.4" x2="510.7" y2="81.6" stroke="#2a4a82" stroke-width="0.9" stroke-opacity="0.8"/>
<line x1="513.4" y1="78.4" x2="513.4" y2="81.6" stroke="#2a4a82" stroke-width="0.9" stroke-opacity="0.8"/>
<polyline points="34.0,158.7 36.5,158.7 36.5,171.3 40.7,171.3 40.7,183.0 80.5,183.0 80.5,195.7 81.6,195.7 81.6,207.1 83.2,207.1 83.2,217.3 153.9,217.3 153.9,230.7 175.4,230.7" fill="none" stroke="#9cc463" stroke-width="1.7" stroke-linejoin="miter"/>
<line x1="156.4" y1="229.1" x2="156.4" y2="232.3" stroke="#9cc463" stroke-width="0.9" stroke-opacity="0.7"/>
<line x1="167.1" y1="229.1" x2="167.1" y2="232.3" stroke="#9cc463" stroke-width="0.9" stroke-opacity="0.7"/>
<line x1="174.3" y1="229.1" x2="174.3" y2="232.3" stroke="#9cc463" stroke-width="0.9" stroke-opacity="0.7"/>
<polyline points="34.0,158.7 38.3,158.7 38.3,168.3 41.1,168.3 41.1,177.1 42.6,177.1 42.6,185.4 43.7,185.4 43.7,208.9 46.1,208.9 46.1,215.6 51.9,215.6 51.9,227.3 95.7,227.3 95.7,239.3 173.1,239.3" fill="none" stroke="#2a4a82" stroke-width="1.6" stroke-linejoin="miter"/>
<line x1="153.6" y1="237.7" x2="153.6" y2="240.9" stroke="#2a4a82" stroke-width="0.9" stroke-opacity="0.8"/>
<line x1="155.7" y1="237.7" x2="155.7" y2="240.9" stroke="#2a4a82" stroke-width="0.9" stroke-opacity="0.8"/>
<line x1="172.9" y1="237.7" x2="172.9" y2="240.9" stroke="#2a4a82" stroke-width="0.9" stroke-opacity="0.8"/>
<polyline points="208.6,164.0 218.3,164.0 218.3,168.8 222.0,168.8 222.0,173.5 266.4,173.5 266.4,178.4 277.7,178.4 277.7,183.1 278.5,183.1 278.5,187.5 280.4,187.5 280.4,192.3 285.6,192.3 285.6,196.9 296.0,196.9 296.0,201.7 303.1,201.7 303.1,207.4 317.4,207.4 317.4,212.9 321.4,212.9 321.4,218.6 324.0,218.6 324.0,225.2 356.7,225.2" fill="none" stroke="#9cc463" stroke-width="1.7" stroke-linejoin="miter"/>
<line x1="312.9" y1="205.8" x2="312.9" y2="209.0" stroke="#9cc463" stroke-width="0.9" stroke-opacity="0.7"/>
<line x1="328.9" y1="223.6" x2="328.9" y2="226.8" stroke="#9cc463" stroke-width="0.9" stroke-opacity="0.7"/>
<line x1="331.0" y1="223.6" x2="331.0" y2="226.8" stroke="#9cc463" stroke-width="0.9" stroke-opacity="0.7"/>
<line x1="333.9" y1="223.6" x2="333.9" y2="226.8" stroke="#9cc463" stroke-width="0.9" stroke-opacity="0.7"/>
<line x1="337.4" y1="223.6" x2="337.4" y2="226.8" stroke="#9cc463" stroke-width="0.9" stroke-opacity="0.7"/>
<line x1="346.0" y1="223.6" x2="346.0" y2="226.8" stroke="#9cc463" stroke-width="0.9" stroke-opacity="0.7"/>
<line x1="356.0" y1="223.6" x2="356.0" y2="226.8" stroke="#9cc463" stroke-width="0.9" stroke-opacity="0.7"/>
<polyline points="208.6,164.0 215.1,164.0 215.4,166.4 216.1,170.0 216.6,173.6 217.0,175.7 217.3,180.0 217.3,183.6 217.4,189.3 219.1,190.0 219.7,192.1 220.9,194.3 221.6,196.4 222.6,197.4 223.0,200.0" fill="none" stroke="#2a4a82" stroke-width="1.9" stroke-linejoin="round"/>
<polyline points="223.0,200.0 230.6,200.0 230.6,202.1 232.0,202.1 232.0,204.3 233.7,204.3 233.7,207.9 239.1,207.9 239.1,211.7 254.0,211.7 254.0,215.7 254.4,215.7 254.4,219.3 257.3,219.3 257.3,222.9 261.6,222.9 261.6,226.9 266.3,226.9 266.3,230.1 299.1,230.1 299.1,238.3 314.6,238.3 314.6,242.4 319.6,242.4 319.6,247.1 328.9,247.1 328.9,251.7 356.0,251.7" fill="none" stroke="#2a4a82" stroke-width="1.6" stroke-linejoin="miter"/>
<line x1="343.1" y1="250.1" x2="343.1" y2="253.3" stroke="#2a4a82" stroke-width="0.9" stroke-opacity="0.8"/>
<line x1="346.7" y1="250.1" x2="346.7" y2="253.3" stroke="#2a4a82" stroke-width="0.9" stroke-opacity="0.8"/>
<polyline points="383.9,163.1 398.3,163.1 398.3,171.1 399.3,171.1 399.3,179.1 405.0,179.1 405.0,187.3 423.3,187.3 423.3,195.4 436.3,195.4 436.3,203.9 452.0,203.9 452.0,212.0 462.8,212.0 462.8,220.8 533.9,220.8" fill="none" stroke="#9cc463" stroke-width="1.7" stroke-linejoin="miter"/>
<line x1="523.5" y1="219.2" x2="523.5" y2="222.4" stroke="#9cc463" stroke-width="0.9" stroke-opacity="0.7"/>
<line x1="526.5" y1="219.2" x2="526.5" y2="222.4" stroke="#9cc463" stroke-width="0.9" stroke-opacity="0.7"/>
<line x1="529.5" y1="219.2" x2="529.5" y2="222.4" stroke="#9cc463" stroke-width="0.9" stroke-opacity="0.7"/>
<line x1="533.0" y1="219.2" x2="533.0" y2="222.4" stroke="#9cc463" stroke-width="0.9" stroke-opacity="0.7"/>
<polyline points="383.9,163.1 430.6,163.1 430.6,176.8 436.5,176.8 436.5,190.6 445.0,190.6 445.0,216.4 450.3,216.4 450.3,231.3 523.3,231.3 523.3,250.3 528.3,250.3 528.3,263.4 529.3,263.4" fill="none" stroke="#2a4a82" stroke-width="1.6" stroke-linejoin="miter"/>
<line x1="506.7" y1="229.7" x2="506.7" y2="232.9" stroke="#2a4a82" stroke-width="0.9" stroke-opacity="0.8"/>
<rect x="80.4" y="69.5" width="84.2" height="9.8" fill="#fff"/>
<rect x="80.4" y="79.3" width="101.1" height="8.8" fill="#fff"/>
<line x1="82.4" y1="74.8" x2="94.0" y2="74.8" stroke="#9cc463" stroke-width="1.6"/>
<line x1="82.4" y1="83.8" x2="94.0" y2="83.8" stroke="#2a4a82" stroke-width="1.7"/>
<line x1="88.2" y1="73.6" x2="88.2" y2="76.0" stroke="#9cc463" stroke-width="0.8"/>
<line x1="88.2" y1="82.5" x2="88.2" y2="85.1" stroke="#2a4a82" stroke-width="0.8"/>
<text x="94.9" y="77.1" font-size="6.7" fill="#595959" text-anchor="start" font-weight="normal" textLength="69.2" lengthAdjust="spacingAndGlyphs" stroke="#595959" stroke-width="0.6" stroke-opacity="0.18">HR+ Luminal-A pCR (n=8)</text>
<text x="94.9" y="86.1" font-size="6.7" fill="#595959" text-anchor="start" font-weight="normal" textLength="85.6" lengthAdjust="spacingAndGlyphs" stroke="#595959" stroke-width="0.6" stroke-opacity="0.18">HR+ Luminal-A Non-pCR (n=44)</text>
<line x1="265.0" y1="15.3" x2="277.0" y2="15.3" stroke="#9cc463" stroke-width="1.6"/>
<line x1="265.0" y1="24.6" x2="277.0" y2="24.6" stroke="#2a4a82" stroke-width="1.7"/>
<line x1="271.0" y1="14.1" x2="271.0" y2="16.5" stroke="#9cc463" stroke-width="0.8"/>
<line x1="271.0" y1="23.3" x2="271.0" y2="25.9" stroke="#2a4a82" stroke-width="0.8"/>
<text x="277.3" y="17.6" font-size="6.7" fill="#595959" text-anchor="start" font-weight="normal" textLength="73.2" lengthAdjust="spacingAndGlyphs" stroke="#595959" stroke-width="0.6" stroke-opacity="0.18">HR+ Luminal-B pCR (n=41)</text>
<text x="277.3" y="26.9" font-size="6.7" fill="#595959" text-anchor="start" font-weight="normal" textLength="89.2" lengthAdjust="spacingAndGlyphs" stroke="#595959" stroke-width="0.6" stroke-opacity="0.18">HR+ Luminal-B Non-pCR (n=121)</text>
<line x1="453.1" y1="7.4" x2="464.4" y2="7.4" stroke="#9cc463" stroke-width="1.6"/>
<line x1="453.1" y1="18.5" x2="464.4" y2="18.5" stroke="#2a4a82" stroke-width="1.7"/>
<line x1="458.8" y1="6.2" x2="458.8" y2="8.6" stroke="#9cc463" stroke-width="0.8"/>
<line x1="458.8" y1="17.2" x2="458.8" y2="19.8" stroke="#2a4a82" stroke-width="0.8"/>
<text x="464.4" y="9.7" font-size="6.7" fill="#595959" text-anchor="start" font-weight="normal" textLength="61.4" lengthAdjust="spacingAndGlyphs" stroke="#595959" stroke-width="0.6" stroke-opacity="0.18">HR+/HER2+ pCR (n=7)</text>
<text x="464.4" y="20.8" font-size="6.7" fill="#595959" text-anchor="start" font-weight="normal" textLength="78.1" lengthAdjust="spacingAndGlyphs" stroke="#595959" stroke-width="0.6" stroke-opacity="0.18">HR+/HER2+ Non-pCR (n=18)</text>
<line x1="92.2" y1="165.5" x2="104.0" y2="165.5" stroke="#9cc463" stroke-width="1.6"/>
<line x1="92.2" y1="175.1" x2="104.0" y2="175.1" stroke="#2a4a82" stroke-width="1.7"/>
<line x1="98.1" y1="164.3" x2="98.1" y2="166.7" stroke="#9cc463" stroke-width="0.8"/>
<line x1="98.1" y1="173.8" x2="98.1" y2="176.4" stroke="#2a4a82" stroke-width="0.8"/>
<text x="104.6" y="167.8" font-size="6.7" fill="#595959" text-anchor="start" font-weight="normal" textLength="63.2" lengthAdjust="spacingAndGlyphs" stroke="#595959" stroke-width="0.6" stroke-opacity="0.18">HR-/HER2+ pCR (n=10)</text>
<text x="104.6" y="177.4" font-size="6.7" fill="#595959" text-anchor="start" font-weight="normal" textLength="76.6" lengthAdjust="spacingAndGlyphs" stroke="#595959" stroke-width="0.6" stroke-opacity="0.18">HR-/HER2+ Non-PCR (n=13)</text>
<line x1="266.6" y1="163.0" x2="278.1" y2="163.0" stroke="#9cc463" stroke-width="1.6"/>
<line x1="266.6" y1="172.5" x2="278.1" y2="172.5" stroke="#2a4a82" stroke-width="1.7"/>
<line x1="272.4" y1="161.8" x2="272.4" y2="164.2" stroke="#9cc463" stroke-width="0.8"/>
<line x1="272.4" y1="171.2" x2="272.4" y2="173.8" stroke="#2a4a82" stroke-width="0.8"/>
<text x="279.1" y="165.3" font-size="6.7" fill="#595959" text-anchor="start" font-weight="normal" textLength="70.2" lengthAdjust="spacingAndGlyphs" stroke="#595959" stroke-width="0.6" stroke-opacity="0.18">Triple Negativ pCR (n=25)</text>
<text x="279.1" y="174.8" font-size="6.7" fill="#595959" text-anchor="start" font-weight="normal" textLength="83.4" lengthAdjust="spacingAndGlyphs" stroke="#595959" stroke-width="0.6" stroke-opacity="0.18">Triple Negativ Non-pCR (n=30)</text>
<line x1="456.9" y1="166.5" x2="469.1" y2="166.5" stroke="#9cc463" stroke-width="1.6"/>
<line x1="456.9" y1="177.1" x2="469.1" y2="177.1" stroke="#2a4a82" stroke-width="1.7"/>
<line x1="463.0" y1="165.3" x2="463.0" y2="167.7" stroke="#9cc463" stroke-width="0.8"/>
<line x1="463.0" y1="175.8" x2="463.0" y2="178.4" stroke="#2a4a82" stroke-width="0.8"/>
<text x="469.3" y="168.8" font-size="6.7" fill="#595959" text-anchor="start" font-weight="normal" textLength="59.0" lengthAdjust="spacingAndGlyphs" stroke="#595959" stroke-width="0.6" stroke-opacity="0.18">Unknown pCR (n=15)</text>
<text x="469.3" y="179.4" font-size="6.7" fill="#595959" text-anchor="start" font-weight="normal" textLength="69.4" lengthAdjust="spacingAndGlyphs" stroke="#595959" stroke-width="0.6" stroke-opacity="0.18">Unknown Non-pCR (n=9)</text>
<rect x="40.0" y="101.0" width="107.4" height="21.6" fill="#fff"/>
<text x="41.7" y="109.0" font-size="7.6" fill="#404040" text-anchor="start" font-weight="bold" textLength="50.4" lengthAdjust="spacingAndGlyphs" stroke="#404040" stroke-width="0.7" stroke-opacity="0.3">HR+ Luminal-A:</text>
<text x="93.7" y="109.0" font-size="7.6" fill="#404040" text-anchor="start" font-weight="normal" textLength="55.5" lengthAdjust="spacingAndGlyphs" stroke="#404040" stroke-width="0.7" stroke-opacity="0.3">pCR vs. Non-pCR:</text>
<text x="41.7" y="118.9" font-size="7.6" fill="#404040" text-anchor="start" font-weight="normal" textLength="117.5" lengthAdjust="spacingAndGlyphs" stroke="#404040" stroke-width="0.7" stroke-opacity="0.3">HR=0.45; CI-95%: 0.10-1.93; p=0.281</text>
<rect x="212.2" y="101.9" width="106.9" height="21.0" fill="#fff"/>
<text x="213.9" y="109.9" font-size="7.6" fill="#404040" text-anchor="start" font-weight="bold" textLength="50.4" lengthAdjust="spacingAndGlyphs" stroke="#404040" stroke-width="0.7" stroke-opacity="0.3">HR+ Luminal-B:</text>
<text x="265.5" y="109.9" font-size="7.6" fill="#404040" text-anchor="start" font-weight="normal" textLength="55.4" lengthAdjust="spacingAndGlyphs" stroke="#404040" stroke-width="0.7" stroke-opacity="0.3">pCR vs. Non pCR:</text>
<text x="213.9" y="119.2" font-size="7.6" fill="#404040" text-anchor="start" font-weight="normal" textLength="117.9" lengthAdjust="spacingAndGlyphs" stroke="#404040" stroke-width="0.7" stroke-opacity="0.3">HR=0.54; CI-95%: 0.32-0.91; p=0.022</text>
<rect x="388.9" y="101.8" width="96.6" height="21.2" fill="#fff"/>
<text x="390.6" y="109.8" font-size="7.6" fill="#404040" text-anchor="start" font-weight="bold" textLength="39.7" lengthAdjust="spacingAndGlyphs" stroke="#404040" stroke-width="0.7" stroke-opacity="0.3">HR+/HER2+:</text>
<text x="431.9" y="109.8" font-size="7.6" fill="#404040" text-anchor="start" font-weight="normal" textLength="55.4" lengthAdjust="spacingAndGlyphs" stroke="#404040" stroke-width="0.7" stroke-opacity="0.3">pCR vs. Non pCR:</text>
<text x="390.6" y="119.3" font-size="7.6" fill="#404040" text-anchor="start" font-weight="normal" textLength="118.0" lengthAdjust="spacingAndGlyphs" stroke="#404040" stroke-width="0.7" stroke-opacity="0.3">HR=0.32; CI-95%: 0.07-1.44; p=0.139</text>
<rect x="39.1" y="250.7" width="95.8" height="21.7" fill="#fff"/>
<text x="40.8" y="258.7" font-size="7.6" fill="#404040" text-anchor="start" font-weight="bold" textLength="38.0" lengthAdjust="spacingAndGlyphs" stroke="#404040" stroke-width="0.7" stroke-opacity="0.3">HR-/HER2+:</text>
<text x="80.4" y="258.7" font-size="7.6" fill="#404040" text-anchor="start" font-weight="normal" textLength="56.3" lengthAdjust="spacingAndGlyphs" stroke="#404040" stroke-width="0.7" stroke-opacity="0.3">pCR vs. Non-pCR:</text>
<text x="40.8" y="268.7" font-size="7.6" fill="#404040" text-anchor="start" font-weight="normal" textLength="117.9" lengthAdjust="spacingAndGlyphs" stroke="#404040" stroke-width="0.7" stroke-opacity="0.3">HR=0.64; CI-95%: 0.22-1.82; p=0.399</text>
<rect x="211.0" y="251.0" width="97.0" height="21.0" fill="#fff"/>
<text x="212.7" y="259.0" font-size="7.6" fill="#404040" text-anchor="start" font-weight="bold" textLength="52.0" lengthAdjust="spacingAndGlyphs" stroke="#404040" stroke-width="0.7" stroke-opacity="0.3">Triple Negative:</text>
<text x="266.6" y="259.0" font-size="7.6" fill="#404040" text-anchor="start" font-weight="normal" textLength="55.0" lengthAdjust="spacingAndGlyphs" stroke="#404040" stroke-width="0.7" stroke-opacity="0.3">pCR vs. Non-pCR:</text>
<text x="212.7" y="268.3" font-size="7.6" fill="#404040" text-anchor="start" font-weight="normal" textLength="117.5" lengthAdjust="spacingAndGlyphs" stroke="#404040" stroke-width="0.7" stroke-opacity="0.3">HR=0.49; CI-95%: 0.24-0.99; p=0.046</text>
<rect x="389.9" y="253.0" width="90.1" height="21.1" fill="#fff"/>
<text x="391.6" y="261.0" font-size="7.6" fill="#404040" text-anchor="start" font-weight="bold" textLength="33.6" lengthAdjust="spacingAndGlyphs" stroke="#404040" stroke-width="0.7" stroke-opacity="0.3">Unknown:</text>
<text x="426.8" y="261.0" font-size="7.6" fill="#404040" text-anchor="start" font-weight="normal" textLength="55.0" lengthAdjust="spacingAndGlyphs" stroke="#404040" stroke-width="0.7" stroke-opacity="0.3">pCR vs. Non pCR:</text>
<text x="391.6" y="270.4" font-size="7.6" fill="#404040" text-anchor="start" font-weight="normal" textLength="117.8" lengthAdjust="spacingAndGlyphs" stroke="#404040" stroke-width="0.7" stroke-opacity="0.3">HR=0.59; CI-95%: 0.21-1.69; p=0.327</text>
</svg>
</body></html>
